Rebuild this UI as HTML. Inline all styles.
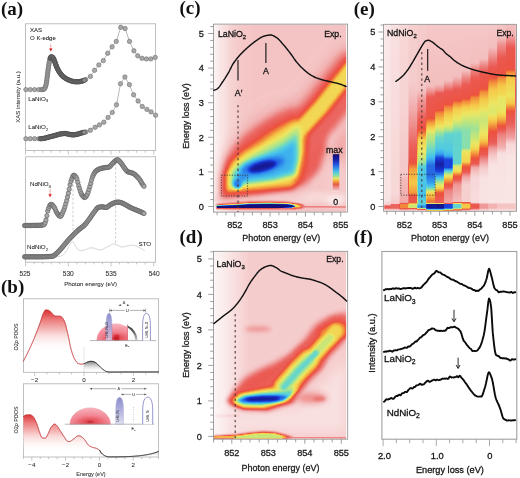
<!DOCTYPE html><html><head><meta charset="utf-8"><style>html,body{margin:0;padding:0;background:#fff;}svg{display:block;}</style></head><body><svg width="520" height="478" viewBox="0 0 520 478"><defs><linearGradient id="cbar" x1="0" y1="0" x2="0" y2="1"><stop offset="0" stop-color="#120c70"/><stop offset="0.14" stop-color="#1420a8"/><stop offset="0.28" stop-color="#2458e0"/><stop offset="0.40" stop-color="#38a0ee"/><stop offset="0.50" stop-color="#56d0d6"/><stop offset="0.58" stop-color="#90e0a0"/><stop offset="0.65" stop-color="#e8e460"/><stop offset="0.72" stop-color="#f4a840"/><stop offset="0.80" stop-color="#e45a3c"/><stop offset="0.88" stop-color="#ec8a86"/><stop offset="1" stop-color="#f8dcdc"/></linearGradient><linearGradient id="rf1" gradientUnits="userSpaceOnUse" x1="0" y1="309" x2="0" y2="352"><stop offset="0" stop-color="#d82828"/><stop offset="0.25" stop-color="#ec7c7c"/><stop offset="0.6" stop-color="#fadada"/><stop offset="1" stop-color="#ffffff" stop-opacity="0"/></linearGradient><linearGradient id="rf2" gradientUnits="userSpaceOnUse" x1="0" y1="413" x2="0" y2="452"><stop offset="0" stop-color="#d82828"/><stop offset="0.25" stop-color="#ec7c7c"/><stop offset="0.6" stop-color="#fadada"/><stop offset="1" stop-color="#ffffff" stop-opacity="0"/></linearGradient><linearGradient id="gf1" gradientUnits="userSpaceOnUse" x1="0" y1="360" x2="0" y2="372"><stop offset="0" stop-color="#555"/><stop offset="1" stop-color="#fff" stop-opacity="0"/></linearGradient><linearGradient id="gf2" gradientUnits="userSpaceOnUse" x1="0" y1="450" x2="0" y2="457"><stop offset="0" stop-color="#555"/><stop offset="1" stop-color="#fff" stop-opacity="0"/></linearGradient><radialGradient id="sc" cx="0.5" cy="1" r="1" fx="0.5" fy="0.85"><stop offset="0" stop-color="#b00010"/><stop offset="0.12" stop-color="#e0303a"/><stop offset="0.45" stop-color="#f07080"/><stop offset="1" stop-color="#f6a8b4"/></radialGradient><linearGradient id="bl" x1="0" y1="0" x2="0" y2="1"><stop offset="0" stop-color="#7070c0"/><stop offset="0.5" stop-color="#a0a0d8"/><stop offset="1" stop-color="#d8d8f0"/></linearGradient><linearGradient id="gsh" x1="0" y1="0" x2="1" y2="0"><stop offset="0" stop-color="#fff" stop-opacity="0"/><stop offset="0.6" stop-color="#999"/><stop offset="1" stop-color="#222"/></linearGradient><clipPath id="scclip340"><rect x="0" y="0" width="128.1" height="478"/></clipPath><linearGradient id="cres" x1="0" y1="0" x2="0" y2="1"><stop offset="0" stop-color="#222"/><stop offset="0.6" stop-color="#777"/><stop offset="1" stop-color="#ccc"/></linearGradient><clipPath id="crc"><rect x="127.3" y="0" width="40" height="478"/></clipPath><filter id="cm" x="0" y="0" width="1" height="1" color-interpolation-filters="sRGB"><feComponentTransfer><feFuncR type="table" tableValues="0.992 0.988 0.984 0.981 0.977 0.972 0.967 0.962 0.958 0.952 0.946 0.940 0.935 0.931 0.928 0.924 0.922 0.925 0.927 0.930 0.936 0.941 0.947 0.952 0.957 0.962 0.960 0.949 0.939 0.903 0.836 0.768 0.689 0.593 0.497 0.415 0.364 0.312 0.267 0.240 0.212 0.185 0.163 0.144 0.125 0.106 0.097 0.095 0.093 0.090 0.088 0.086"/><feFuncG type="table" tableValues="0.965 0.944 0.922 0.901 0.880 0.850 0.819 0.789 0.758 0.713 0.665 0.616 0.568 0.515 0.460 0.405 0.358 0.342 0.327 0.323 0.394 0.466 0.537 0.608 0.679 0.749 0.805 0.846 0.887 0.909 0.906 0.904 0.896 0.881 0.865 0.845 0.816 0.787 0.748 0.682 0.616 0.550 0.476 0.399 0.323 0.246 0.198 0.170 0.141 0.112 0.084 0.055"/><feFuncB type="table" tableValues="0.965 0.944 0.922 0.901 0.880 0.850 0.819 0.789 0.758 0.711 0.661 0.611 0.561 0.504 0.445 0.385 0.331 0.298 0.264 0.235 0.235 0.235 0.235 0.244 0.259 0.275 0.299 0.332 0.366 0.402 0.443 0.484 0.541 0.625 0.708 0.782 0.837 0.893 0.933 0.931 0.928 0.926 0.912 0.891 0.871 0.851 0.803 0.738 0.673 0.608 0.543 0.478"/></feComponentTransfer></filter><filter id="b05" filterUnits="userSpaceOnUse" x="0" y="0" width="520" height="478" color-interpolation-filters="sRGB"><feGaussianBlur stdDeviation="0.5"/></filter><filter id="b1" filterUnits="userSpaceOnUse" x="0" y="0" width="520" height="478" color-interpolation-filters="sRGB"><feGaussianBlur stdDeviation="1"/></filter><filter id="b15" filterUnits="userSpaceOnUse" x="0" y="0" width="520" height="478" color-interpolation-filters="sRGB"><feGaussianBlur stdDeviation="1.5"/></filter><filter id="b2" filterUnits="userSpaceOnUse" x="0" y="0" width="520" height="478" color-interpolation-filters="sRGB"><feGaussianBlur stdDeviation="2"/></filter><filter id="b25" filterUnits="userSpaceOnUse" x="0" y="0" width="520" height="478" color-interpolation-filters="sRGB"><feGaussianBlur stdDeviation="2.5"/></filter><filter id="b3" filterUnits="userSpaceOnUse" x="0" y="0" width="520" height="478" color-interpolation-filters="sRGB"><feGaussianBlur stdDeviation="3"/></filter><filter id="b4" filterUnits="userSpaceOnUse" x="0" y="0" width="520" height="478" color-interpolation-filters="sRGB"><feGaussianBlur stdDeviation="4"/></filter><filter id="b6" filterUnits="userSpaceOnUse" x="0" y="0" width="520" height="478" color-interpolation-filters="sRGB"><feGaussianBlur stdDeviation="6"/></filter><filter id="b9" filterUnits="userSpaceOnUse" x="0" y="0" width="520" height="478" color-interpolation-filters="sRGB"><feGaussianBlur stdDeviation="9"/></filter><clipPath id="clipc"><rect x="213.8" y="24.4" width="132.4" height="187.4"/></clipPath><linearGradient id="hgc1" x1="0" y1="0" x2="1" y2="0"><stop offset="0" stop-color="#000000"/><stop offset="0.17" stop-color="#000000"/><stop offset="0.3" stop-color="#0d0d0d"/><stop offset="0.5" stop-color="#1c1c1c"/><stop offset="0.75" stop-color="#242424"/><stop offset="1" stop-color="#262626"/></linearGradient><clipPath id="clipd"><rect x="213.8" y="251.7" width="132.4" height="187.1"/></clipPath><linearGradient id="hgd1" x1="0" y1="0" x2="1" y2="0"><stop offset="0" stop-color="#000000"/><stop offset="0.2" stop-color="#000000"/><stop offset="0.4" stop-color="#080808"/><stop offset="0.62" stop-color="#141414"/><stop offset="1" stop-color="#212121"/></linearGradient><clipPath id="clipe"><rect x="384.2" y="24.6" width="132" height="186.4"/></clipPath><linearGradient id="vge1" gradientUnits="userSpaceOnUse" x1="0" y1="20" x2="0" y2="214"><stop offset="0.02" stop-color="#0d0d0d"/><stop offset="0.93" stop-color="#121212"/><stop offset="0.95" stop-color="#1f1f1f"/><stop offset="0.96" stop-color="#525252"/><stop offset="0.97" stop-color="#4c4c4c"/><stop offset="0.98" stop-color="#1a1a1a"/><stop offset="0.99" stop-color="#0d0d0d"/></linearGradient><linearGradient id="vge2" gradientUnits="userSpaceOnUse" x1="0" y1="20" x2="0" y2="214"><stop offset="0.02" stop-color="#141414"/><stop offset="0.9" stop-color="#1a1a1a"/><stop offset="0.95" stop-color="#242424"/><stop offset="0.95" stop-color="#4c4c4c"/><stop offset="0.97" stop-color="#4c4c4c"/><stop offset="0.98" stop-color="#1a1a1a"/><stop offset="0.99" stop-color="#0f0f0f"/></linearGradient><linearGradient id="vge3" gradientUnits="userSpaceOnUse" x1="0" y1="20" x2="0" y2="214"><stop offset="0.02" stop-color="#1a1a1a"/><stop offset="0.41" stop-color="#1c1c1c"/><stop offset="0.8" stop-color="#242424"/><stop offset="0.82" stop-color="#2b2b2b"/><stop offset="0.91" stop-color="#303030"/><stop offset="0.94" stop-color="#333333"/><stop offset="0.95" stop-color="#6e6e6e"/><stop offset="0.97" stop-color="#6e6e6e"/><stop offset="0.98" stop-color="#262626"/><stop offset="0.99" stop-color="#141414"/></linearGradient><linearGradient id="vge4" gradientUnits="userSpaceOnUse" x1="0" y1="20" x2="0" y2="214"><stop offset="0.02" stop-color="#1f1f1f"/><stop offset="0.32" stop-color="#212121"/><stop offset="0.41" stop-color="#2b2b2b"/><stop offset="0.51" stop-color="#383838"/><stop offset="0.61" stop-color="#474747"/><stop offset="0.66" stop-color="#4f4f4f"/><stop offset="0.71" stop-color="#545454"/><stop offset="0.74" stop-color="#616161"/><stop offset="0.77" stop-color="#757575"/><stop offset="0.84" stop-color="#808080"/><stop offset="0.89" stop-color="#737373"/><stop offset="0.91" stop-color="#595959"/><stop offset="0.94" stop-color="#545454"/><stop offset="0.95" stop-color="#949494"/><stop offset="0.96" stop-color="#999999"/><stop offset="0.97" stop-color="#949494"/><stop offset="0.97" stop-color="#666666"/><stop offset="0.98" stop-color="#1f1f1f"/></linearGradient><linearGradient id="vge5" gradientUnits="userSpaceOnUse" x1="0" y1="20" x2="0" y2="214"><stop offset="0.02" stop-color="#212121"/><stop offset="0.36" stop-color="#262626"/><stop offset="0.41" stop-color="#383838"/><stop offset="0.47" stop-color="#454545"/><stop offset="0.52" stop-color="#525252"/><stop offset="0.56" stop-color="#5c5c5c"/><stop offset="0.59" stop-color="#707070"/><stop offset="0.62" stop-color="#858585"/><stop offset="0.67" stop-color="#8f8f8f"/><stop offset="0.71" stop-color="#999999"/><stop offset="0.74" stop-color="#a8a8a8"/><stop offset="0.76" stop-color="#b8b8b8"/><stop offset="0.91" stop-color="#bdbdbd"/><stop offset="0.94" stop-color="#b2b2b2"/><stop offset="0.95" stop-color="#b8b8b8"/><stop offset="0.96" stop-color="#cccccc"/><stop offset="0.97" stop-color="#c7c7c7"/><stop offset="0.97" stop-color="#b2b2b2"/><stop offset="0.98" stop-color="#262626"/></linearGradient><linearGradient id="vge6" gradientUnits="userSpaceOnUse" x1="0" y1="20" x2="0" y2="214"><stop offset="0.02" stop-color="#242424"/><stop offset="0.34" stop-color="#292929"/><stop offset="0.37" stop-color="#3d3d3d"/><stop offset="0.4" stop-color="#525252"/><stop offset="0.5" stop-color="#595959"/><stop offset="0.52" stop-color="#6b6b6b"/><stop offset="0.55" stop-color="#808080"/><stop offset="0.59" stop-color="#999999"/><stop offset="0.64" stop-color="#a6a6a6"/><stop offset="0.68" stop-color="#b2b2b2"/><stop offset="0.71" stop-color="#bfbfbf"/><stop offset="0.75" stop-color="#d6d6d6"/><stop offset="0.8" stop-color="#d6d6d6"/><stop offset="0.84" stop-color="#c7c7c7"/><stop offset="0.86" stop-color="#b8b8b8"/><stop offset="0.88" stop-color="#999999"/><stop offset="0.89" stop-color="#878787"/><stop offset="0.92" stop-color="#737373"/><stop offset="0.94" stop-color="#666666"/><stop offset="0.95" stop-color="#b8b8b8"/><stop offset="0.95" stop-color="#f7f7f7"/><stop offset="0.97" stop-color="#f7f7f7"/><stop offset="0.98" stop-color="#999999"/><stop offset="0.99" stop-color="#262626"/></linearGradient><linearGradient id="vge7" gradientUnits="userSpaceOnUse" x1="0" y1="20" x2="0" y2="214"><stop offset="0.02" stop-color="#242424"/><stop offset="0.33" stop-color="#292929"/><stop offset="0.36" stop-color="#3d3d3d"/><stop offset="0.38" stop-color="#525252"/><stop offset="0.46" stop-color="#595959"/><stop offset="0.48" stop-color="#6e6e6e"/><stop offset="0.52" stop-color="#808080"/><stop offset="0.55" stop-color="#8f8f8f"/><stop offset="0.58" stop-color="#a3a3a3"/><stop offset="0.61" stop-color="#b0b0b0"/><stop offset="0.66" stop-color="#b8b8b8"/><stop offset="0.69" stop-color="#c7c7c7"/><stop offset="0.71" stop-color="#e0e0e0"/><stop offset="0.74" stop-color="#f2f2f2"/><stop offset="0.76" stop-color="#ededed"/><stop offset="0.78" stop-color="#e0e0e0"/><stop offset="0.8" stop-color="#cccccc"/><stop offset="0.82" stop-color="#b2b2b2"/><stop offset="0.85" stop-color="#949494"/><stop offset="0.87" stop-color="#808080"/><stop offset="0.89" stop-color="#616161"/><stop offset="0.94" stop-color="#4c4c4c"/><stop offset="0.95" stop-color="#b8b8b8"/><stop offset="0.95" stop-color="#fafafa"/><stop offset="0.97" stop-color="#fafafa"/><stop offset="0.98" stop-color="#999999"/><stop offset="0.99" stop-color="#262626"/></linearGradient><linearGradient id="vge8" gradientUnits="userSpaceOnUse" x1="0" y1="20" x2="0" y2="214"><stop offset="0.02" stop-color="#242424"/><stop offset="0.31" stop-color="#292929"/><stop offset="0.34" stop-color="#3d3d3d"/><stop offset="0.37" stop-color="#525252"/><stop offset="0.43" stop-color="#595959"/><stop offset="0.45" stop-color="#6e6e6e"/><stop offset="0.49" stop-color="#828282"/><stop offset="0.54" stop-color="#8f8f8f"/><stop offset="0.57" stop-color="#a3a3a3"/><stop offset="0.59" stop-color="#b2b2b2"/><stop offset="0.67" stop-color="#b8b8b8"/><stop offset="0.7" stop-color="#c2c2c2"/><stop offset="0.72" stop-color="#e0e0e0"/><stop offset="0.76" stop-color="#e0e0e0"/><stop offset="0.78" stop-color="#b2b2b2"/><stop offset="0.8" stop-color="#949494"/><stop offset="0.82" stop-color="#7a7a7a"/><stop offset="0.85" stop-color="#5c5c5c"/><stop offset="0.88" stop-color="#404040"/><stop offset="0.94" stop-color="#333333"/><stop offset="0.95" stop-color="#666666"/><stop offset="0.95" stop-color="#e0e0e0"/><stop offset="0.97" stop-color="#e0e0e0"/><stop offset="0.98" stop-color="#808080"/><stop offset="0.99" stop-color="#1f1f1f"/></linearGradient><linearGradient id="vge9" gradientUnits="userSpaceOnUse" x1="0" y1="20" x2="0" y2="214"><stop offset="0.02" stop-color="#242424"/><stop offset="0.29" stop-color="#292929"/><stop offset="0.33" stop-color="#404040"/><stop offset="0.36" stop-color="#525252"/><stop offset="0.41" stop-color="#595959"/><stop offset="0.43" stop-color="#6e6e6e"/><stop offset="0.46" stop-color="#828282"/><stop offset="0.51" stop-color="#8f8f8f"/><stop offset="0.54" stop-color="#9e9e9e"/><stop offset="0.59" stop-color="#b2b2b2"/><stop offset="0.74" stop-color="#b2b2b2"/><stop offset="0.75" stop-color="#999999"/><stop offset="0.78" stop-color="#878787"/><stop offset="0.8" stop-color="#666666"/><stop offset="0.82" stop-color="#545454"/><stop offset="0.85" stop-color="#383838"/><stop offset="0.94" stop-color="#292929"/><stop offset="0.94" stop-color="#545454"/><stop offset="0.95" stop-color="#b2b2b2"/><stop offset="0.97" stop-color="#b2b2b2"/><stop offset="0.98" stop-color="#4c4c4c"/><stop offset="0.99" stop-color="#1a1a1a"/></linearGradient><linearGradient id="vge10" gradientUnits="userSpaceOnUse" x1="0" y1="20" x2="0" y2="214"><stop offset="0.02" stop-color="#242424"/><stop offset="0.26" stop-color="#292929"/><stop offset="0.3" stop-color="#404040"/><stop offset="0.34" stop-color="#525252"/><stop offset="0.4" stop-color="#595959"/><stop offset="0.42" stop-color="#6e6e6e"/><stop offset="0.45" stop-color="#828282"/><stop offset="0.49" stop-color="#919191"/><stop offset="0.53" stop-color="#9e9e9e"/><stop offset="0.57" stop-color="#a8a8a8"/><stop offset="0.66" stop-color="#a8a8a8"/><stop offset="0.68" stop-color="#8c8c8c"/><stop offset="0.73" stop-color="#858585"/><stop offset="0.75" stop-color="#666666"/><stop offset="0.78" stop-color="#545454"/><stop offset="0.81" stop-color="#333333"/><stop offset="0.85" stop-color="#1f1f1f"/><stop offset="0.94" stop-color="#1f1f1f"/><stop offset="0.94" stop-color="#545454"/><stop offset="0.95" stop-color="#808080"/><stop offset="0.97" stop-color="#808080"/><stop offset="0.98" stop-color="#333333"/><stop offset="0.99" stop-color="#1a1a1a"/></linearGradient><linearGradient id="vge11" gradientUnits="userSpaceOnUse" x1="0" y1="20" x2="0" y2="214"><stop offset="0.02" stop-color="#242424"/><stop offset="0.22" stop-color="#292929"/><stop offset="0.25" stop-color="#3d3d3d"/><stop offset="0.29" stop-color="#4c4c4c"/><stop offset="0.31" stop-color="#545454"/><stop offset="0.38" stop-color="#595959"/><stop offset="0.4" stop-color="#6e6e6e"/><stop offset="0.44" stop-color="#808080"/><stop offset="0.47" stop-color="#8c8c8c"/><stop offset="0.51" stop-color="#999999"/><stop offset="0.56" stop-color="#a3a3a3"/><stop offset="0.61" stop-color="#999999"/><stop offset="0.66" stop-color="#878787"/><stop offset="0.69" stop-color="#707070"/><stop offset="0.71" stop-color="#616161"/><stop offset="0.74" stop-color="#525252"/><stop offset="0.76" stop-color="#333333"/><stop offset="0.81" stop-color="#1a1a1a"/><stop offset="0.94" stop-color="#171717"/><stop offset="0.95" stop-color="#545454"/><stop offset="0.97" stop-color="#545454"/><stop offset="0.98" stop-color="#262626"/><stop offset="0.99" stop-color="#141414"/></linearGradient><linearGradient id="vge12" gradientUnits="userSpaceOnUse" x1="0" y1="20" x2="0" y2="214"><stop offset="0.02" stop-color="#242424"/><stop offset="0.2" stop-color="#292929"/><stop offset="0.23" stop-color="#3d3d3d"/><stop offset="0.26" stop-color="#4c4c4c"/><stop offset="0.28" stop-color="#545454"/><stop offset="0.35" stop-color="#595959"/><stop offset="0.37" stop-color="#6e6e6e"/><stop offset="0.41" stop-color="#808080"/><stop offset="0.45" stop-color="#8a8a8a"/><stop offset="0.48" stop-color="#949494"/><stop offset="0.52" stop-color="#999999"/><stop offset="0.56" stop-color="#949494"/><stop offset="0.61" stop-color="#878787"/><stop offset="0.64" stop-color="#737373"/><stop offset="0.66" stop-color="#616161"/><stop offset="0.69" stop-color="#525252"/><stop offset="0.72" stop-color="#3d3d3d"/><stop offset="0.77" stop-color="#1f1f1f"/><stop offset="0.82" stop-color="#121212"/><stop offset="0.94" stop-color="#121212"/><stop offset="0.95" stop-color="#383838"/><stop offset="0.97" stop-color="#383838"/><stop offset="0.98" stop-color="#1a1a1a"/><stop offset="0.99" stop-color="#141414"/></linearGradient><linearGradient id="vge13" gradientUnits="userSpaceOnUse" x1="0" y1="20" x2="0" y2="214"><stop offset="0.02" stop-color="#242424"/><stop offset="0.14" stop-color="#292929"/><stop offset="0.19" stop-color="#3d3d3d"/><stop offset="0.23" stop-color="#4c4c4c"/><stop offset="0.25" stop-color="#545454"/><stop offset="0.29" stop-color="#595959"/><stop offset="0.32" stop-color="#6e6e6e"/><stop offset="0.36" stop-color="#808080"/><stop offset="0.4" stop-color="#878787"/><stop offset="0.44" stop-color="#919191"/><stop offset="0.48" stop-color="#949494"/><stop offset="0.51" stop-color="#858585"/><stop offset="0.55" stop-color="#6e6e6e"/><stop offset="0.58" stop-color="#5c5c5c"/><stop offset="0.64" stop-color="#4c4c4c"/><stop offset="0.66" stop-color="#383838"/><stop offset="0.71" stop-color="#1f1f1f"/><stop offset="0.75" stop-color="#121212"/><stop offset="0.94" stop-color="#0f0f0f"/><stop offset="0.95" stop-color="#2e2e2e"/><stop offset="0.97" stop-color="#2e2e2e"/><stop offset="0.98" stop-color="#141414"/></linearGradient><linearGradient id="vge14" gradientUnits="userSpaceOnUse" x1="0" y1="20" x2="0" y2="214"><stop offset="0.02" stop-color="#262626"/><stop offset="0.09" stop-color="#292929"/><stop offset="0.13" stop-color="#3d3d3d"/><stop offset="0.18" stop-color="#4c4c4c"/><stop offset="0.2" stop-color="#545454"/><stop offset="0.28" stop-color="#595959"/><stop offset="0.3" stop-color="#6e6e6e"/><stop offset="0.34" stop-color="#808080"/><stop offset="0.38" stop-color="#878787"/><stop offset="0.41" stop-color="#919191"/><stop offset="0.46" stop-color="#919191"/><stop offset="0.49" stop-color="#858585"/><stop offset="0.52" stop-color="#737373"/><stop offset="0.55" stop-color="#5c5c5c"/><stop offset="0.59" stop-color="#424242"/><stop offset="0.66" stop-color="#2e2e2e"/><stop offset="0.69" stop-color="#141414"/><stop offset="0.94" stop-color="#0f0f0f"/><stop offset="0.95" stop-color="#262626"/><stop offset="0.97" stop-color="#262626"/><stop offset="0.98" stop-color="#141414"/></linearGradient><linearGradient id="vge15" gradientUnits="userSpaceOnUse" x1="0" y1="20" x2="0" y2="214"><stop offset="0.02" stop-color="#292929"/><stop offset="0.07" stop-color="#2e2e2e"/><stop offset="0.1" stop-color="#3d3d3d"/><stop offset="0.13" stop-color="#4c4c4c"/><stop offset="0.15" stop-color="#545454"/><stop offset="0.25" stop-color="#595959"/><stop offset="0.27" stop-color="#6e6e6e"/><stop offset="0.3" stop-color="#808080"/><stop offset="0.35" stop-color="#878787"/><stop offset="0.39" stop-color="#8c8c8c"/><stop offset="0.43" stop-color="#808080"/><stop offset="0.45" stop-color="#6e6e6e"/><stop offset="0.48" stop-color="#595959"/><stop offset="0.54" stop-color="#4c4c4c"/><stop offset="0.61" stop-color="#333333"/><stop offset="0.64" stop-color="#1a1a1a"/><stop offset="0.72" stop-color="#0f0f0f"/><stop offset="0.94" stop-color="#0f0f0f"/><stop offset="0.95" stop-color="#262626"/><stop offset="0.97" stop-color="#262626"/><stop offset="0.98" stop-color="#141414"/></linearGradient></defs><rect width="520" height="478" fill="#fff"/><g clip-path="url(#clipc)"><g filter="url(#cm)"><rect x="200" y="10" width="160" height="215" fill="#262626"/><rect x="205" y="10" width="50" height="215" fill="url(#hgc1)"/><polygon points="214,196 300,192 346,192 346,203 214,203" fill="#1a1a1a" filter="url(#b2)"/><polygon points="219,199 220,170 226,150 236,136 252,120 270,108 290,100 300,104 306,140 302,194 219,199" fill="#333333" filter="url(#b6)"/><polyline points="284,148 300,130 321,107 339.5,83.5 352,68" fill="none" stroke="#363636" stroke-width="46" stroke-linecap="round" stroke-linejoin="round" filter="url(#b6)"/><polygon points="220,199 221,175 226,159 235,146 245,135.6 255.7,127 268.5,118.5 281,112 292,108 304,112 322,120 327,150 320,170 306,184 260,194 222,199" fill="#4f4f4f" filter="url(#b3)"/><polyline points="284,148 300,130 321,107 339.5,83.5 352,68" fill="none" stroke="#4f4f4f" stroke-width="32" stroke-linecap="round" stroke-linejoin="round" filter="url(#b3)"/><polyline points="294,160 310,140 330,117 350,92" fill="none" stroke="#4c4c4c" stroke-width="22" stroke-linecap="round" stroke-linejoin="round" filter="url(#b3)"/><polygon points="350,118 336,140 326,165 346,170" fill="#333333" filter="url(#b4)"/><polygon points="225,194 225,174 230,161 241,150.5 255.7,140 270.6,129 285.5,120.7 294,117 304,122 308,140 306,165 300,182 292,189" fill="#6b6b6b" filter="url(#b25)"/><polyline points="284,148 300,130 321,107 339.5,83.5 352,68" fill="none" stroke="#6e6e6e" stroke-width="19" stroke-linecap="round" stroke-linejoin="round" filter="url(#b2)"/><polygon points="227.5,190.5 227.5,174 233,163 245,152.7 260,144 275,133.5 290,124 297,121 302,128 302,150 297,172 292,184" fill="#878787" filter="url(#b2)"/><polyline points="284,148 300,130 321,107 339.5,83.5 352,68" fill="none" stroke="#878787" stroke-width="12.5" stroke-linecap="round" stroke-linejoin="round" filter="url(#b15)"/><polygon points="229.5,187.5 230.5,172 238,163 250,155 266,146 281,138 293,129 300,126 301,152 296,176 272,182 229.5,187.5" fill="#9e9e9e" filter="url(#b2)"/><polygon points="232,184.5 234,172 242,164.4 254,158 268.5,151.6 283.4,144 297,134 298,160 294,174 273,179.5 232,184.5" fill="#b2b2b2" filter="url(#b2)"/><polygon points="235,182 238,172 248,163 265,157 282,150 295,142 295,160 292,171 273,177 240,181" fill="#c2c2c2" filter="url(#b2)"/><ellipse cx="263" cy="166" rx="22" ry="7" transform="rotate(-15 263 166)" fill="#d6d6d6" filter="url(#b2)"/><ellipse cx="237.5" cy="184" rx="4.5" ry="5" transform="rotate(0 237.5 184)" fill="#d1d1d1" filter="url(#b15)"/><ellipse cx="243" cy="177" rx="6" ry="3.5" transform="rotate(-40 243 177)" fill="#cccccc" filter="url(#b2)"/><ellipse cx="262.5" cy="166.5" rx="14" ry="4.3" transform="rotate(-15 262.5 166.5)" fill="#f7f7f7" filter="url(#b15)"/><ellipse cx="336" cy="178" rx="9" ry="22" transform="rotate(0 336 178)" fill="#212121" filter="url(#b4)"/><ellipse cx="335" cy="200" rx="8" ry="5" transform="rotate(0 335 200)" fill="#0d0d0d" filter="url(#b2)"/><polygon points="216,204 235,202.8 250,201.6 270,201.2 288,201.8 300,204.5 300,207 216,207" fill="#5c5c5c" filter="url(#b1)"/><polygon points="216,205 235,204 250,202.8 270,202.5 290,203.2 298,205 298,207 216,207" fill="#8f8f8f" filter="url(#b05)"/><polygon points="216,205.6 235,204.7 250,203.6 270,203.3 290,203.9 296,205.5 296,207 216,207" fill="#b8b8b8" filter="url(#b05)"/><ellipse cx="297" cy="206.3" rx="7" ry="1.8" transform="rotate(0 297 206.3)" fill="#8c8c8c" filter="url(#b1)"/><polygon points="216.8,206.1 235,205.3 250,204.3 270,204 286,204.3 292,205 295.5,206.2 292,207.7 270,208.2 216.8,208.2" fill="#ffffff" filter="url(#b05)"/><polyline points="216,208.9 296,208.9" fill="none" stroke="#595959" stroke-width="1" stroke-linecap="butt" stroke-linejoin="round" filter="url(#b05)"/><polyline points="300,206.8 346,207.1" fill="none" stroke="#454545" stroke-width="1.5" stroke-linecap="butt" stroke-linejoin="round" filter="url(#b05)"/></g></g><g clip-path="url(#clipd)"><g filter="url(#cm)"><rect x="200" y="240" width="160" height="210" fill="#212121"/><rect x="205" y="240" width="45" height="210" fill="url(#hgd1)"/><polygon points="230,414 300,408 346,360 346,432 230,432" fill="#141414" filter="url(#b6)"/><ellipse cx="258" cy="329" rx="14" ry="3.5" transform="rotate(0 258 329)" fill="#383838" filter="url(#b2)"/><polygon points="228,402 234,390 244,378 258,370 274,363 290,354 304,340 316,324 332,315 348,312 348,330 336,334 322,346 304,366 288,384 268,394 245,404" fill="#525252" filter="url(#b3)"/><polygon points="226,400.7 234,391.9 252,386.3 276,377 296,366 306,380 294,403.1 268,411.5 242,410.3 230,405.5" fill="#4f4f4f" filter="url(#b2)"/><polyline points="284,387 299,370 309,360" fill="none" stroke="#4f4f4f" stroke-width="32" stroke-linecap="round" stroke-linejoin="round" filter="url(#b25)"/><polyline points="309,360 317,352 324,344 330,338 336,331" fill="none" stroke="#4f4f4f" stroke-width="26" stroke-linecap="round" stroke-linejoin="round" filter="url(#b25)"/><polygon points="318,332 328,326 340,323 346,324 346,336 336,338 326,341" fill="#737373" filter="url(#b25)"/><polygon points="231,400.7 238,393.1 256,389.1 280,384.7 298,372 302,384 290,401.5 266,409.1 244,408.7 234,404.7" fill="#6e6e6e" filter="url(#b15)"/><polyline points="284,387 299,370 309,360" fill="none" stroke="#6e6e6e" stroke-width="23" stroke-linecap="round" stroke-linejoin="round" filter="url(#b15)"/><polyline points="309,360 317,352 324,344 330,338 336,331" fill="none" stroke="#6e6e6e" stroke-width="18" stroke-linecap="round" stroke-linejoin="round" filter="url(#b15)"/><polygon points="233.5,400.7 240,394.3 258,390.7 280,387.1 296,378 298,390.3 286,401.5 264,407.5 244,407.1 236,403.9" fill="#878787" filter="url(#b15)"/><polyline points="284,387 299,370 309,360" fill="none" stroke="#878787" stroke-width="18" stroke-linecap="round" stroke-linejoin="round" filter="url(#b15)"/><polyline points="309,360 317,352 324,344 330,338 336,331" fill="none" stroke="#878787" stroke-width="13" stroke-linecap="round" stroke-linejoin="round" filter="url(#b15)"/><polygon points="235,400.7 242,395.1 260,391.9 282,389.5 294,386.3 294,393.5 282,401.5 262,405.9 244,405.5 237,403.1" fill="#9e9e9e" filter="url(#b1)"/><polyline points="284,387 299,370 309,360" fill="none" stroke="#9e9e9e" stroke-width="12" stroke-linecap="round" stroke-linejoin="round" filter="url(#b1)"/><polyline points="309,360 317,352 324,344 330,338" fill="none" stroke="#999999" stroke-width="8" stroke-linecap="round" stroke-linejoin="round" filter="url(#b1)"/><polygon points="236,400.3 244,395.9 262,393.5 282,391.9 292,390.3 290,396.7 278,402.3 260,404.7 244,403.9" fill="#b2b2b2" filter="url(#b1)"/><polyline points="284,387 299,370 309,360 316,353" fill="none" stroke="#b0b0b0" stroke-width="6" stroke-linecap="round" stroke-linejoin="round" filter="url(#b1)"/><polygon points="239,399.9 246,396.7 262,395.1 280,394.7 288,395.9 284,399.9 270,402.7 252,403.1 242,402.3" fill="#d6d6d6" filter="url(#b1)"/><polygon points="244,399.5 250,397.5 262,396.7 276,396.7 281,397.9 276,400.3 262,401.1 250,401.1" fill="#f7f7f7" filter="url(#b1)"/><ellipse cx="312" cy="398" rx="16" ry="6" transform="rotate(0 312 398)" fill="#3d3d3d" filter="url(#b3)"/><ellipse cx="319" cy="398.8" rx="6.5" ry="2.3" transform="rotate(0 319 398.8)" fill="#474747" filter="url(#b15)"/><polyline points="216,416 240,415.5" fill="none" stroke="#333333" stroke-width="1.2" stroke-linecap="butt" stroke-linejoin="round" filter="url(#b1)"/><polygon points="214,435.3 236,434.3 250,432.3 263,431 275,431.8 285,434.3 293,437 293,439 214,439" fill="#575757" filter="url(#b1)"/><polygon points="214,436.2 236,435.3 250,433.5 263,432.4 275,433 284,435.5 288,438.6 214,438.6" fill="#7a7a7a" filter="url(#b05)"/><polygon points="234,437 250,434.7 263,433.6 275,434.2 281,436 283,438.5 234,438.5" fill="#999999" filter="url(#b05)"/><polyline points="290,437.7 346,437.9" fill="none" stroke="#404040" stroke-width="1.6" stroke-linecap="butt" stroke-linejoin="round" filter="url(#b05)"/></g></g><g clip-path="url(#clipe)"><g filter="url(#cm)"><rect x="380" y="20" width="140" height="195" fill="#1f1f1f"/><rect x="381.82" y="20" width="9.47" height="194" fill="url(#vge1)"/><rect x="390.69" y="20" width="9.47" height="194" fill="url(#vge2)"/><rect x="399.56" y="20" width="9.47" height="194" fill="url(#vge3)"/><rect x="408.44" y="20" width="9.47" height="194" fill="url(#vge4)"/><rect x="417.31" y="20" width="9.47" height="194" fill="url(#vge5)"/><rect x="426.18" y="20" width="9.47" height="194" fill="url(#vge6)"/><rect x="435.05" y="20" width="9.47" height="194" fill="url(#vge7)"/><rect x="443.91" y="20" width="9.47" height="194" fill="url(#vge8)"/><rect x="452.78" y="20" width="9.47" height="194" fill="url(#vge9)"/><rect x="461.65" y="20" width="9.47" height="194" fill="url(#vge10)"/><rect x="470.52" y="20" width="9.47" height="194" fill="url(#vge11)"/><rect x="479.39" y="20" width="9.47" height="194" fill="url(#vge12)"/><rect x="488.26" y="20" width="9.47" height="194" fill="url(#vge13)"/><rect x="497.13" y="20" width="9.47" height="194" fill="url(#vge14)"/><rect x="506" y="20" width="9.47" height="194" fill="url(#vge15)"/></g></g><text x="1" y="14.8" font-size="19" text-anchor="start" fill="#111" font-family="'Liberation Serif', 'Times New Roman', serif" font-weight="bold">(a)</text><text x="1" y="293" font-size="19" text-anchor="start" fill="#111" font-family="'Liberation Serif', 'Times New Roman', serif" font-weight="bold">(b)</text><text x="179.4" y="14.4" font-size="19" text-anchor="start" fill="#111" font-family="'Liberation Serif', 'Times New Roman', serif" font-weight="bold">(c)</text><text x="179.5" y="242.8" font-size="19" text-anchor="start" fill="#111" font-family="'Liberation Serif', 'Times New Roman', serif" font-weight="bold">(d)</text><text x="353.8" y="14.6" font-size="19" text-anchor="start" fill="#111" font-family="'Liberation Serif', 'Times New Roman', serif" font-weight="bold">(e)</text><text x="353.8" y="243.2" font-size="19" text-anchor="start" fill="#111" font-family="'Liberation Serif', 'Times New Roman', serif" font-weight="bold">(f)</text><line x1="208.2" y1="206.5" x2="213.4" y2="206.5" stroke="#777" stroke-width="0.7"/><text x="201.2" y="209.7" font-size="9.2" text-anchor="middle" fill="#1a1a1a" font-family="'Liberation Sans', Arial, sans-serif" font-weight="normal" stroke="#1a1a1a" stroke-width="0.28">0</text><line x1="210.2" y1="199.58" x2="213.4" y2="199.58" stroke="#777" stroke-width="0.7"/><line x1="210.2" y1="192.66" x2="213.4" y2="192.66" stroke="#777" stroke-width="0.7"/><line x1="210.2" y1="185.74" x2="213.4" y2="185.74" stroke="#777" stroke-width="0.7"/><line x1="210.2" y1="178.82" x2="213.4" y2="178.82" stroke="#777" stroke-width="0.7"/><line x1="208.2" y1="171.9" x2="213.4" y2="171.9" stroke="#777" stroke-width="0.7"/><text x="201.2" y="175.1" font-size="9.2" text-anchor="middle" fill="#1a1a1a" font-family="'Liberation Sans', Arial, sans-serif" font-weight="normal" stroke="#1a1a1a" stroke-width="0.28">1</text><line x1="210.2" y1="164.98" x2="213.4" y2="164.98" stroke="#777" stroke-width="0.7"/><line x1="210.2" y1="158.06" x2="213.4" y2="158.06" stroke="#777" stroke-width="0.7"/><line x1="210.2" y1="151.14" x2="213.4" y2="151.14" stroke="#777" stroke-width="0.7"/><line x1="210.2" y1="144.22" x2="213.4" y2="144.22" stroke="#777" stroke-width="0.7"/><line x1="208.2" y1="137.3" x2="213.4" y2="137.3" stroke="#777" stroke-width="0.7"/><text x="201.2" y="140.5" font-size="9.2" text-anchor="middle" fill="#1a1a1a" font-family="'Liberation Sans', Arial, sans-serif" font-weight="normal" stroke="#1a1a1a" stroke-width="0.28">2</text><line x1="210.2" y1="130.38" x2="213.4" y2="130.38" stroke="#777" stroke-width="0.7"/><line x1="210.2" y1="123.46" x2="213.4" y2="123.46" stroke="#777" stroke-width="0.7"/><line x1="210.2" y1="116.54" x2="213.4" y2="116.54" stroke="#777" stroke-width="0.7"/><line x1="210.2" y1="109.62" x2="213.4" y2="109.62" stroke="#777" stroke-width="0.7"/><line x1="208.2" y1="102.7" x2="213.4" y2="102.7" stroke="#777" stroke-width="0.7"/><text x="201.2" y="105.9" font-size="9.2" text-anchor="middle" fill="#1a1a1a" font-family="'Liberation Sans', Arial, sans-serif" font-weight="normal" stroke="#1a1a1a" stroke-width="0.28">3</text><line x1="210.2" y1="95.78" x2="213.4" y2="95.78" stroke="#777" stroke-width="0.7"/><line x1="210.2" y1="88.86" x2="213.4" y2="88.86" stroke="#777" stroke-width="0.7"/><line x1="210.2" y1="81.94" x2="213.4" y2="81.94" stroke="#777" stroke-width="0.7"/><line x1="210.2" y1="75.02" x2="213.4" y2="75.02" stroke="#777" stroke-width="0.7"/><line x1="208.2" y1="68.1" x2="213.4" y2="68.1" stroke="#777" stroke-width="0.7"/><text x="201.2" y="71.3" font-size="9.2" text-anchor="middle" fill="#1a1a1a" font-family="'Liberation Sans', Arial, sans-serif" font-weight="normal" stroke="#1a1a1a" stroke-width="0.28">4</text><line x1="210.2" y1="61.18" x2="213.4" y2="61.18" stroke="#777" stroke-width="0.7"/><line x1="210.2" y1="54.26" x2="213.4" y2="54.26" stroke="#777" stroke-width="0.7"/><line x1="210.2" y1="47.34" x2="213.4" y2="47.34" stroke="#777" stroke-width="0.7"/><line x1="210.2" y1="40.42" x2="213.4" y2="40.42" stroke="#777" stroke-width="0.7"/><line x1="208.2" y1="33.5" x2="213.4" y2="33.5" stroke="#777" stroke-width="0.7"/><text x="201.2" y="36.7" font-size="9.2" text-anchor="middle" fill="#1a1a1a" font-family="'Liberation Sans', Arial, sans-serif" font-weight="normal" stroke="#1a1a1a" stroke-width="0.28">5</text><line x1="210.2" y1="26.58" x2="213.4" y2="26.58" stroke="#777" stroke-width="0.7"/><line x1="217.15" y1="212.1" x2="217.15" y2="215.3" stroke="#777" stroke-width="0.7"/><line x1="225.98" y1="212.1" x2="225.98" y2="215.3" stroke="#777" stroke-width="0.7"/><line x1="234.8" y1="212.1" x2="234.8" y2="216.6" stroke="#777" stroke-width="0.7"/><text x="234.8" y="228.4" font-size="9.2" text-anchor="middle" fill="#1a1a1a" font-family="'Liberation Sans', Arial, sans-serif" font-weight="normal" stroke="#1a1a1a" stroke-width="0.28">852</text><line x1="243.62" y1="212.1" x2="243.62" y2="215.3" stroke="#777" stroke-width="0.7"/><line x1="252.45" y1="212.1" x2="252.45" y2="215.3" stroke="#777" stroke-width="0.7"/><line x1="261.28" y1="212.1" x2="261.28" y2="215.3" stroke="#777" stroke-width="0.7"/><line x1="270.1" y1="212.1" x2="270.1" y2="216.6" stroke="#777" stroke-width="0.7"/><text x="270.1" y="228.4" font-size="9.2" text-anchor="middle" fill="#1a1a1a" font-family="'Liberation Sans', Arial, sans-serif" font-weight="normal" stroke="#1a1a1a" stroke-width="0.28">853</text><line x1="278.93" y1="212.1" x2="278.93" y2="215.3" stroke="#777" stroke-width="0.7"/><line x1="287.75" y1="212.1" x2="287.75" y2="215.3" stroke="#777" stroke-width="0.7"/><line x1="296.57" y1="212.1" x2="296.57" y2="215.3" stroke="#777" stroke-width="0.7"/><line x1="305.4" y1="212.1" x2="305.4" y2="216.6" stroke="#777" stroke-width="0.7"/><text x="305.4" y="228.4" font-size="9.2" text-anchor="middle" fill="#1a1a1a" font-family="'Liberation Sans', Arial, sans-serif" font-weight="normal" stroke="#1a1a1a" stroke-width="0.28">854</text><line x1="314.23" y1="212.1" x2="314.23" y2="215.3" stroke="#777" stroke-width="0.7"/><line x1="323.05" y1="212.1" x2="323.05" y2="215.3" stroke="#777" stroke-width="0.7"/><line x1="331.88" y1="212.1" x2="331.88" y2="215.3" stroke="#777" stroke-width="0.7"/><line x1="340.7" y1="212.1" x2="340.7" y2="216.6" stroke="#777" stroke-width="0.7"/><text x="340.7" y="228.4" font-size="9.2" text-anchor="middle" fill="#1a1a1a" font-family="'Liberation Sans', Arial, sans-serif" font-weight="normal" stroke="#1a1a1a" stroke-width="0.28">855</text><rect x="213.4" y="24.1" width="134" height="188" fill="none" stroke="#8a8a8a" stroke-width="0.8"/><text x="281.2" y="241" font-size="9" text-anchor="middle" fill="#1a1a1a" font-family="'Liberation Sans', Arial, sans-serif" font-weight="normal" stroke="#1a1a1a" stroke-width="0.28">Photon energy (eV)</text><text x="189.3" y="116" font-size="8.9" text-anchor="middle" fill="#1a1a1a" font-family="'Liberation Sans', Arial, sans-serif" font-weight="normal" transform="rotate(-90 189.3 116)" stroke="#1a1a1a" stroke-width="0.28">Energy loss (eV)</text><text x="217.9" y="37" font-size="8.8" text-anchor="start" fill="#111" font-family="'Liberation Sans', Arial, sans-serif" font-weight="normal" stroke="#111" stroke-width="0.28">LaNiO<tspan font-size="6" dy="2">2</tspan></text><text x="324.2" y="37.3" font-size="8.7" text-anchor="start" fill="#111" font-family="'Liberation Sans', Arial, sans-serif" font-weight="normal" stroke="#111" stroke-width="0.28">Exp.</text><polyline points="214,90.2 214.59,90.03 215.18,89.84 215.74,89.63 216.28,89.39 216.78,89.13 217.23,88.85 217.67,88.52 218.08,88.15 218.48,87.75 218.87,87.32 219.24,86.86 219.6,86.38 219.95,85.89 220.3,85.38 220.64,84.86 220.97,84.33 221.31,83.81 221.64,83.29 221.97,82.78 222.31,82.28 222.65,81.79 222.98,81.31 223.32,80.83 223.65,80.34 223.98,79.85 224.3,79.36 224.63,78.87 224.95,78.37 225.27,77.88 225.59,77.38 225.9,76.88 226.22,76.37 226.53,75.87 226.83,75.37 227.14,74.86 227.44,74.35 227.74,73.85 228.04,73.34 228.34,72.83 228.63,72.32 228.92,71.81 229.2,71.29 229.48,70.77 229.75,70.24 230.01,69.71 230.28,69.18 230.54,68.65 230.8,68.11 231.06,67.58 231.32,67.05 231.59,66.53 231.86,66 232.14,65.48 232.42,64.97 232.72,64.47 233.02,63.97 233.33,63.47 233.66,62.98 233.98,62.49 234.32,62.01 234.66,61.52 235,61.04 235.36,60.57 235.71,60.09 236.07,59.62 236.44,59.15 236.81,58.69 237.18,58.23 237.56,57.77 237.93,57.32 238.31,56.87 238.69,56.42 239.08,55.98 239.47,55.54 239.86,55.1 240.26,54.67 240.66,54.24 241.06,53.81 241.47,53.38 241.88,52.96 242.3,52.54 242.72,52.12 243.14,51.7 243.56,51.29 243.99,50.88 244.42,50.47 244.85,50.06 245.28,49.66 245.72,49.26 246.15,48.86 246.59,48.46 247.02,48.07 247.46,47.68 247.9,47.29 248.34,46.89 248.79,46.51 249.23,46.12 249.68,45.73 250.13,45.35 250.59,44.97 251.04,44.59 251.5,44.21 251.96,43.84 252.42,43.48 252.89,43.11 253.36,42.75 253.83,42.4 254.3,42.05 254.78,41.71 255.26,41.37 255.74,41.03 256.22,40.69 256.71,40.34 257.2,39.99 257.69,39.63 258.18,39.28 258.68,38.93 259.18,38.59 259.68,38.25 260.19,37.93 260.7,37.62 261.21,37.33 261.73,37.06 262.26,36.8 262.78,36.58 263.32,36.38 263.86,36.21 264.41,36.06 264.97,35.91 265.55,35.76 266.13,35.62 266.72,35.49 267.31,35.36 267.91,35.26 268.5,35.16 269.09,35.09 269.68,35.03 270.25,35.01 270.82,35.01 271.39,35.07 271.96,35.21 272.53,35.4 273.09,35.64 273.65,35.91 274.19,36.2 274.72,36.49 275.23,36.79 275.72,37.07 276.2,37.37 276.66,37.69 277.12,38.03 277.56,38.39 278,38.77 278.44,39.16 278.86,39.57 279.28,40 279.7,40.43 280.1,40.87 280.51,41.33 280.91,41.78 281.31,42.25 281.7,42.71 282.09,43.18 282.49,43.64 282.88,44.1 283.26,44.56 283.65,45.01 284.04,45.45 284.43,45.89 284.82,46.34 285.2,46.78 285.58,47.23 285.95,47.69 286.33,48.15 286.7,48.61 287.06,49.07 287.43,49.53 287.79,50 288.16,50.46 288.52,50.93 288.88,51.4 289.23,51.87 289.59,52.34 289.95,52.81 290.31,53.28 290.66,53.75 291.02,54.22 291.37,54.7 291.71,55.18 292.05,55.66 292.39,56.14 292.73,56.63 293.07,57.12 293.4,57.6 293.74,58.09 294.07,58.58 294.41,59.06 294.75,59.55 295.1,60.03 295.44,60.5 295.79,60.97 296.15,61.44 296.51,61.9 296.88,62.36 297.26,62.81 297.64,63.26 298.02,63.7 298.41,64.14 298.81,64.58 299.21,65.02 299.61,65.45 300.02,65.89 300.43,66.31 300.84,66.74 301.26,67.16 301.68,67.57 302.1,67.99 302.53,68.39 302.95,68.8 303.39,69.2 303.82,69.59 304.26,69.98 304.7,70.38 305.14,70.77 305.59,71.16 306.05,71.54 306.5,71.92 306.96,72.29 307.43,72.66 307.9,73.02 308.37,73.38 308.85,73.72 309.33,74.06 309.82,74.38 310.31,74.7 310.8,75.01 311.31,75.31 311.82,75.61 312.33,75.91 312.85,76.19 313.38,76.47 313.91,76.74 314.44,77 314.97,77.25 315.51,77.49 316.05,77.72 316.59,77.94 317.14,78.15 317.69,78.35 318.25,78.55 318.81,78.74 319.37,78.93 319.94,79.11 320.5,79.28 321.07,79.45 321.64,79.62 322.21,79.78 322.77,79.94 323.34,80.09 323.91,80.24 324.48,80.39 325.05,80.52 325.63,80.66 326.2,80.79 326.78,80.92 327.36,81.05 327.93,81.18 328.51,81.31 329.09,81.43 329.66,81.56 330.24,81.69 330.81,81.83 331.39,81.96 331.96,82.09 332.54,82.21 333.12,82.34 333.7,82.46 334.28,82.59 334.85,82.71 335.43,82.84 336,82.98 336.57,83.12 337.14,83.26 337.71,83.42 338.27,83.58 338.84,83.75 339.4,83.92 339.96,84.11 340.51,84.29 341.07,84.49 341.62,84.69 342.18,84.9 342.73,85.11 343.28,85.33 343.82,85.55 344.37,85.78 344.92,86.02 345.46,86.26 346,86.5" fill="none" stroke="#111" stroke-width="1.45" stroke-linejoin="round" stroke-linecap="round"/><line x1="238" y1="60" x2="238" y2="80.6" stroke="#111" stroke-width="1.1"/><line x1="265.9" y1="43" x2="265.9" y2="63" stroke="#111" stroke-width="1.1"/><text x="238.6" y="95.6" font-size="8.8" text-anchor="middle" fill="#111" font-family="'Liberation Sans', Arial, sans-serif" font-weight="normal" stroke="#111" stroke-width="0.28">A′</text><text x="266" y="74" font-size="8.8" text-anchor="middle" fill="#111" font-family="'Liberation Sans', Arial, sans-serif" font-weight="normal" stroke="#111" stroke-width="0.28">A</text><line x1="238" y1="105" x2="238" y2="212" stroke="#4a3838" stroke-width="1.1" stroke-dasharray="2.3 3"/><rect x="221.4" y="175.2" width="26.2" height="20.8" fill="none" stroke="#333" stroke-width="0.8" stroke-dasharray="1.2 1.4"/><rect x="332.8" y="154.2" width="6.5" height="37.5" fill="url(#cbar)" stroke="none" stroke-width="0.7"/><text x="334.3" y="152.5" font-size="8.8" text-anchor="middle" fill="#111" font-family="'Liberation Sans', Arial, sans-serif" font-weight="normal" stroke="#111" stroke-width="0.28">max</text><text x="335.6" y="205.4" font-size="8.8" text-anchor="middle" fill="#111" font-family="'Liberation Sans', Arial, sans-serif" font-weight="normal" stroke="#111" stroke-width="0.28">0</text><line x1="208.2" y1="436.4" x2="213.4" y2="436.4" stroke="#777" stroke-width="0.7"/><text x="199.2" y="439.6" font-size="9.2" text-anchor="middle" fill="#1a1a1a" font-family="'Liberation Sans', Arial, sans-serif" font-weight="normal" stroke="#1a1a1a" stroke-width="0.28">0</text><line x1="210.2" y1="429.3" x2="213.4" y2="429.3" stroke="#777" stroke-width="0.7"/><line x1="210.2" y1="422.2" x2="213.4" y2="422.2" stroke="#777" stroke-width="0.7"/><line x1="210.2" y1="415.1" x2="213.4" y2="415.1" stroke="#777" stroke-width="0.7"/><line x1="210.2" y1="408" x2="213.4" y2="408" stroke="#777" stroke-width="0.7"/><line x1="208.2" y1="400.9" x2="213.4" y2="400.9" stroke="#777" stroke-width="0.7"/><text x="199.2" y="404.1" font-size="9.2" text-anchor="middle" fill="#1a1a1a" font-family="'Liberation Sans', Arial, sans-serif" font-weight="normal" stroke="#1a1a1a" stroke-width="0.28">1</text><line x1="210.2" y1="393.8" x2="213.4" y2="393.8" stroke="#777" stroke-width="0.7"/><line x1="210.2" y1="386.7" x2="213.4" y2="386.7" stroke="#777" stroke-width="0.7"/><line x1="210.2" y1="379.6" x2="213.4" y2="379.6" stroke="#777" stroke-width="0.7"/><line x1="210.2" y1="372.5" x2="213.4" y2="372.5" stroke="#777" stroke-width="0.7"/><line x1="208.2" y1="365.4" x2="213.4" y2="365.4" stroke="#777" stroke-width="0.7"/><text x="199.2" y="368.6" font-size="9.2" text-anchor="middle" fill="#1a1a1a" font-family="'Liberation Sans', Arial, sans-serif" font-weight="normal" stroke="#1a1a1a" stroke-width="0.28">2</text><line x1="210.2" y1="358.3" x2="213.4" y2="358.3" stroke="#777" stroke-width="0.7"/><line x1="210.2" y1="351.2" x2="213.4" y2="351.2" stroke="#777" stroke-width="0.7"/><line x1="210.2" y1="344.1" x2="213.4" y2="344.1" stroke="#777" stroke-width="0.7"/><line x1="210.2" y1="337" x2="213.4" y2="337" stroke="#777" stroke-width="0.7"/><line x1="208.2" y1="329.9" x2="213.4" y2="329.9" stroke="#777" stroke-width="0.7"/><text x="199.2" y="333.1" font-size="9.2" text-anchor="middle" fill="#1a1a1a" font-family="'Liberation Sans', Arial, sans-serif" font-weight="normal" stroke="#1a1a1a" stroke-width="0.28">3</text><line x1="210.2" y1="322.8" x2="213.4" y2="322.8" stroke="#777" stroke-width="0.7"/><line x1="210.2" y1="315.7" x2="213.4" y2="315.7" stroke="#777" stroke-width="0.7"/><line x1="210.2" y1="308.6" x2="213.4" y2="308.6" stroke="#777" stroke-width="0.7"/><line x1="210.2" y1="301.5" x2="213.4" y2="301.5" stroke="#777" stroke-width="0.7"/><line x1="208.2" y1="294.4" x2="213.4" y2="294.4" stroke="#777" stroke-width="0.7"/><text x="199.2" y="297.6" font-size="9.2" text-anchor="middle" fill="#1a1a1a" font-family="'Liberation Sans', Arial, sans-serif" font-weight="normal" stroke="#1a1a1a" stroke-width="0.28">4</text><line x1="210.2" y1="287.3" x2="213.4" y2="287.3" stroke="#777" stroke-width="0.7"/><line x1="210.2" y1="280.2" x2="213.4" y2="280.2" stroke="#777" stroke-width="0.7"/><line x1="210.2" y1="273.1" x2="213.4" y2="273.1" stroke="#777" stroke-width="0.7"/><line x1="210.2" y1="266" x2="213.4" y2="266" stroke="#777" stroke-width="0.7"/><line x1="208.2" y1="258.9" x2="213.4" y2="258.9" stroke="#777" stroke-width="0.7"/><text x="199.2" y="262.1" font-size="9.2" text-anchor="middle" fill="#1a1a1a" font-family="'Liberation Sans', Arial, sans-serif" font-weight="normal" stroke="#1a1a1a" stroke-width="0.28">5</text><line x1="210.2" y1="251.8" x2="213.4" y2="251.8" stroke="#777" stroke-width="0.7"/><line x1="213.55" y1="439.2" x2="213.55" y2="442.4" stroke="#777" stroke-width="0.7"/><line x1="222.68" y1="439.2" x2="222.68" y2="442.4" stroke="#777" stroke-width="0.7"/><line x1="231.8" y1="439.2" x2="231.8" y2="443.7" stroke="#777" stroke-width="0.7"/><text x="231.8" y="455.5" font-size="9.2" text-anchor="middle" fill="#1a1a1a" font-family="'Liberation Sans', Arial, sans-serif" font-weight="normal" stroke="#1a1a1a" stroke-width="0.28">852</text><line x1="240.93" y1="439.2" x2="240.93" y2="442.4" stroke="#777" stroke-width="0.7"/><line x1="250.05" y1="439.2" x2="250.05" y2="442.4" stroke="#777" stroke-width="0.7"/><line x1="259.18" y1="439.2" x2="259.18" y2="442.4" stroke="#777" stroke-width="0.7"/><line x1="268.3" y1="439.2" x2="268.3" y2="443.7" stroke="#777" stroke-width="0.7"/><text x="268.3" y="455.5" font-size="9.2" text-anchor="middle" fill="#1a1a1a" font-family="'Liberation Sans', Arial, sans-serif" font-weight="normal" stroke="#1a1a1a" stroke-width="0.28">853</text><line x1="277.43" y1="439.2" x2="277.43" y2="442.4" stroke="#777" stroke-width="0.7"/><line x1="286.55" y1="439.2" x2="286.55" y2="442.4" stroke="#777" stroke-width="0.7"/><line x1="295.68" y1="439.2" x2="295.68" y2="442.4" stroke="#777" stroke-width="0.7"/><line x1="304.8" y1="439.2" x2="304.8" y2="443.7" stroke="#777" stroke-width="0.7"/><text x="304.8" y="455.5" font-size="9.2" text-anchor="middle" fill="#1a1a1a" font-family="'Liberation Sans', Arial, sans-serif" font-weight="normal" stroke="#1a1a1a" stroke-width="0.28">854</text><line x1="313.93" y1="439.2" x2="313.93" y2="442.4" stroke="#777" stroke-width="0.7"/><line x1="323.05" y1="439.2" x2="323.05" y2="442.4" stroke="#777" stroke-width="0.7"/><line x1="332.18" y1="439.2" x2="332.18" y2="442.4" stroke="#777" stroke-width="0.7"/><line x1="341.3" y1="439.2" x2="341.3" y2="443.7" stroke="#777" stroke-width="0.7"/><text x="341.3" y="455.5" font-size="9.2" text-anchor="middle" fill="#1a1a1a" font-family="'Liberation Sans', Arial, sans-serif" font-weight="normal" stroke="#1a1a1a" stroke-width="0.28">855</text><rect x="213.4" y="251.3" width="134.3" height="187.9" fill="none" stroke="#8a8a8a" stroke-width="0.8"/><text x="280.6" y="470.8" font-size="9" text-anchor="middle" fill="#1a1a1a" font-family="'Liberation Sans', Arial, sans-serif" font-weight="normal" stroke="#1a1a1a" stroke-width="0.28">Photon energy (eV)</text><text x="189.3" y="345" font-size="8.9" text-anchor="middle" fill="#1a1a1a" font-family="'Liberation Sans', Arial, sans-serif" font-weight="normal" transform="rotate(-90 189.3 345)" stroke="#1a1a1a" stroke-width="0.28">Energy loss (eV)</text><text x="216.5" y="267" font-size="8.8" text-anchor="start" fill="#111" font-family="'Liberation Sans', Arial, sans-serif" font-weight="normal" stroke="#111" stroke-width="0.28">LaNiO<tspan font-size="6" dy="2">3</tspan></text><text x="326.2" y="262.1" font-size="8.7" text-anchor="start" fill="#111" font-family="'Liberation Sans', Arial, sans-serif" font-weight="normal" stroke="#111" stroke-width="0.28">Exp.</text><polyline points="214,323.5 214.44,323.15 214.88,322.8 215.32,322.44 215.75,322.09 216.19,321.74 216.63,321.39 217.07,321.04 217.51,320.68 217.95,320.33 218.39,319.98 218.83,319.63 219.27,319.28 219.71,318.93 220.14,318.58 220.58,318.23 221.02,317.87 221.46,317.52 221.9,317.17 222.34,316.82 222.79,316.47 223.23,316.13 223.68,315.78 224.13,315.44 224.58,315.1 225.03,314.77 225.49,314.43 225.95,314.09 226.4,313.76 226.86,313.42 227.32,313.09 227.77,312.75 228.22,312.41 228.67,312.07 229.12,311.72 229.56,311.38 230,311.03 230.44,310.68 230.87,310.32 231.3,309.96 231.72,309.59 232.13,309.22 232.54,308.84 232.94,308.46 233.33,308.07 233.72,307.67 234.11,307.27 234.49,306.85 234.87,306.44 235.24,306.01 235.61,305.59 235.97,305.15 236.33,304.72 236.69,304.28 237.04,303.84 237.39,303.39 237.74,302.94 238.08,302.49 238.43,302.04 238.76,301.59 239.1,301.14 239.43,300.69 239.75,300.24 240.08,299.78 240.4,299.32 240.71,298.85 241.03,298.39 241.34,297.92 241.65,297.45 241.95,296.97 242.26,296.5 242.56,296.02 242.86,295.54 243.15,295.06 243.45,294.58 243.74,294.1 244.03,293.62 244.32,293.14 244.61,292.65 244.9,292.17 245.18,291.69 245.46,291.2 245.74,290.71 246,290.21 246.27,289.72 246.53,289.22 246.79,288.72 247.05,288.22 247.31,287.71 247.57,287.21 247.83,286.71 248.09,286.22 248.36,285.72 248.63,285.23 248.9,284.74 249.19,284.25 249.47,283.77 249.77,283.29 250.07,282.82 250.37,282.35 250.68,281.88 251,281.42 251.31,280.95 251.64,280.49 251.96,280.03 252.29,279.57 252.63,279.12 252.96,278.67 253.3,278.21 253.64,277.76 253.98,277.32 254.32,276.87 254.67,276.43 255.01,275.98 255.36,275.54 255.7,275.09 256.04,274.63 256.39,274.17 256.74,273.72 257.08,273.26 257.44,272.81 257.8,272.37 258.16,271.94 258.53,271.52 258.91,271.11 259.3,270.72 259.7,270.34 260.12,269.99 260.54,269.64 260.99,269.3 261.44,268.97 261.92,268.64 262.4,268.33 262.89,268.03 263.39,267.75 263.89,267.49 264.4,267.25 264.91,267.04 265.42,266.84 265.95,266.64 266.49,266.43 267.03,266.24 267.58,266.06 268.14,265.89 268.69,265.75 269.25,265.63 269.8,265.55 270.34,265.51 270.88,265.51 271.41,265.57 271.95,265.69 272.49,265.85 273.03,266.05 273.57,266.28 274.1,266.53 274.62,266.79 275.13,267.06 275.64,267.32 276.14,267.57 276.62,267.84 277.08,268.14 277.54,268.47 277.99,268.82 278.44,269.17 278.89,269.53 279.33,269.89 279.79,270.23 280.25,270.55 280.72,270.84 281.21,271.11 281.7,271.36 282.21,271.59 282.72,271.82 283.24,272.04 283.76,272.25 284.29,272.46 284.82,272.66 285.35,272.86 285.88,273.07 286.41,273.27 286.93,273.47 287.45,273.68 287.98,273.89 288.5,274.11 289.02,274.32 289.54,274.53 290.07,274.74 290.59,274.95 291.12,275.15 291.64,275.35 292.17,275.54 292.7,275.72 293.24,275.89 293.77,276.05 294.31,276.21 294.85,276.36 295.39,276.5 295.93,276.65 296.48,276.79 297.03,276.93 297.57,277.06 298.12,277.19 298.67,277.31 299.22,277.43 299.78,277.55 300.33,277.67 300.88,277.78 301.43,277.89 301.98,278 302.53,278.1 303.09,278.19 303.64,278.28 304.2,278.36 304.76,278.44 305.32,278.52 305.88,278.59 306.44,278.67 307,278.75 307.55,278.82 308.11,278.91 308.66,279 309.22,279.09 309.77,279.19 310.32,279.3 310.86,279.43 311.41,279.56 311.95,279.71 312.49,279.87 313.03,280.03 313.56,280.2 314.1,280.38 314.64,280.55 315.17,280.73 315.71,280.91 316.24,281.08 316.78,281.25 317.32,281.42 317.86,281.59 318.39,281.77 318.93,281.94 319.47,282.12 320,282.31 320.53,282.5 321.06,282.69 321.58,282.89 322.1,283.1 322.61,283.32 323.12,283.55 323.62,283.79 324.12,284.04 324.62,284.3 325.11,284.57 325.6,284.86 326.09,285.15 326.57,285.44 327.05,285.74 327.53,286.04 328.01,286.35 328.48,286.66 328.95,286.96 329.41,287.28 329.87,287.59 330.33,287.92 330.78,288.25 331.24,288.58 331.68,288.92 332.13,289.27 332.58,289.61 333.02,289.96 333.46,290.31 333.91,290.66 334.35,291 334.8,291.34 335.25,291.69 335.7,292.02 336.15,292.36 336.61,292.69 337.06,293.02 337.52,293.35 337.97,293.68 338.43,294.02 338.88,294.35 339.33,294.69 339.78,295.03 340.22,295.37 340.66,295.72 341.09,296.08 341.52,296.44 341.95,296.8 342.38,297.16 342.8,297.53 343.22,297.91 343.64,298.28 344.06,298.66 344.47,299.04 344.88,299.43 345.29,299.82 345.7,300.21 346.1,300.6 346.5,301" fill="none" stroke="#111" stroke-width="1.45" stroke-linejoin="round" stroke-linecap="round"/><line x1="235.2" y1="314" x2="235.2" y2="439" stroke="#4a3838" stroke-width="1.1" stroke-dasharray="2.3 3"/><line x1="378.4" y1="206.5" x2="383.6" y2="206.5" stroke="#777" stroke-width="0.7"/><text x="372.7" y="209.7" font-size="9.2" text-anchor="middle" fill="#1a1a1a" font-family="'Liberation Sans', Arial, sans-serif" font-weight="normal" stroke="#1a1a1a" stroke-width="0.28">0</text><line x1="380.4" y1="199.52" x2="383.6" y2="199.52" stroke="#777" stroke-width="0.7"/><line x1="380.4" y1="192.54" x2="383.6" y2="192.54" stroke="#777" stroke-width="0.7"/><line x1="380.4" y1="185.56" x2="383.6" y2="185.56" stroke="#777" stroke-width="0.7"/><line x1="380.4" y1="178.58" x2="383.6" y2="178.58" stroke="#777" stroke-width="0.7"/><line x1="378.4" y1="171.6" x2="383.6" y2="171.6" stroke="#777" stroke-width="0.7"/><text x="372.7" y="174.8" font-size="9.2" text-anchor="middle" fill="#1a1a1a" font-family="'Liberation Sans', Arial, sans-serif" font-weight="normal" stroke="#1a1a1a" stroke-width="0.28">1</text><line x1="380.4" y1="164.62" x2="383.6" y2="164.62" stroke="#777" stroke-width="0.7"/><line x1="380.4" y1="157.64" x2="383.6" y2="157.64" stroke="#777" stroke-width="0.7"/><line x1="380.4" y1="150.66" x2="383.6" y2="150.66" stroke="#777" stroke-width="0.7"/><line x1="380.4" y1="143.68" x2="383.6" y2="143.68" stroke="#777" stroke-width="0.7"/><line x1="378.4" y1="136.7" x2="383.6" y2="136.7" stroke="#777" stroke-width="0.7"/><text x="372.7" y="139.9" font-size="9.2" text-anchor="middle" fill="#1a1a1a" font-family="'Liberation Sans', Arial, sans-serif" font-weight="normal" stroke="#1a1a1a" stroke-width="0.28">2</text><line x1="380.4" y1="129.72" x2="383.6" y2="129.72" stroke="#777" stroke-width="0.7"/><line x1="380.4" y1="122.74" x2="383.6" y2="122.74" stroke="#777" stroke-width="0.7"/><line x1="380.4" y1="115.76" x2="383.6" y2="115.76" stroke="#777" stroke-width="0.7"/><line x1="380.4" y1="108.78" x2="383.6" y2="108.78" stroke="#777" stroke-width="0.7"/><line x1="378.4" y1="101.8" x2="383.6" y2="101.8" stroke="#777" stroke-width="0.7"/><text x="372.7" y="105" font-size="9.2" text-anchor="middle" fill="#1a1a1a" font-family="'Liberation Sans', Arial, sans-serif" font-weight="normal" stroke="#1a1a1a" stroke-width="0.28">3</text><line x1="380.4" y1="94.82" x2="383.6" y2="94.82" stroke="#777" stroke-width="0.7"/><line x1="380.4" y1="87.84" x2="383.6" y2="87.84" stroke="#777" stroke-width="0.7"/><line x1="380.4" y1="80.86" x2="383.6" y2="80.86" stroke="#777" stroke-width="0.7"/><line x1="380.4" y1="73.88" x2="383.6" y2="73.88" stroke="#777" stroke-width="0.7"/><line x1="378.4" y1="66.9" x2="383.6" y2="66.9" stroke="#777" stroke-width="0.7"/><text x="372.7" y="70.1" font-size="9.2" text-anchor="middle" fill="#1a1a1a" font-family="'Liberation Sans', Arial, sans-serif" font-weight="normal" stroke="#1a1a1a" stroke-width="0.28">4</text><line x1="380.4" y1="59.92" x2="383.6" y2="59.92" stroke="#777" stroke-width="0.7"/><line x1="380.4" y1="52.94" x2="383.6" y2="52.94" stroke="#777" stroke-width="0.7"/><line x1="380.4" y1="45.96" x2="383.6" y2="45.96" stroke="#777" stroke-width="0.7"/><line x1="380.4" y1="38.98" x2="383.6" y2="38.98" stroke="#777" stroke-width="0.7"/><line x1="378.4" y1="32" x2="383.6" y2="32" stroke="#777" stroke-width="0.7"/><text x="372.7" y="35.2" font-size="9.2" text-anchor="middle" fill="#1a1a1a" font-family="'Liberation Sans', Arial, sans-serif" font-weight="normal" stroke="#1a1a1a" stroke-width="0.28">5</text><line x1="380.4" y1="25.02" x2="383.6" y2="25.02" stroke="#777" stroke-width="0.7"/><line x1="386.8" y1="211.3" x2="386.8" y2="214.5" stroke="#777" stroke-width="0.7"/><line x1="395.6" y1="211.3" x2="395.6" y2="214.5" stroke="#777" stroke-width="0.7"/><line x1="404.4" y1="211.3" x2="404.4" y2="215.8" stroke="#777" stroke-width="0.7"/><text x="404.4" y="227.6" font-size="9.2" text-anchor="middle" fill="#1a1a1a" font-family="'Liberation Sans', Arial, sans-serif" font-weight="normal" stroke="#1a1a1a" stroke-width="0.28">852</text><line x1="413.2" y1="211.3" x2="413.2" y2="214.5" stroke="#777" stroke-width="0.7"/><line x1="422" y1="211.3" x2="422" y2="214.5" stroke="#777" stroke-width="0.7"/><line x1="430.8" y1="211.3" x2="430.8" y2="214.5" stroke="#777" stroke-width="0.7"/><line x1="439.6" y1="211.3" x2="439.6" y2="215.8" stroke="#777" stroke-width="0.7"/><text x="439.6" y="227.6" font-size="9.2" text-anchor="middle" fill="#1a1a1a" font-family="'Liberation Sans', Arial, sans-serif" font-weight="normal" stroke="#1a1a1a" stroke-width="0.28">853</text><line x1="448.4" y1="211.3" x2="448.4" y2="214.5" stroke="#777" stroke-width="0.7"/><line x1="457.2" y1="211.3" x2="457.2" y2="214.5" stroke="#777" stroke-width="0.7"/><line x1="466" y1="211.3" x2="466" y2="214.5" stroke="#777" stroke-width="0.7"/><line x1="474.8" y1="211.3" x2="474.8" y2="215.8" stroke="#777" stroke-width="0.7"/><text x="474.8" y="227.6" font-size="9.2" text-anchor="middle" fill="#1a1a1a" font-family="'Liberation Sans', Arial, sans-serif" font-weight="normal" stroke="#1a1a1a" stroke-width="0.28">854</text><line x1="483.6" y1="211.3" x2="483.6" y2="214.5" stroke="#777" stroke-width="0.7"/><line x1="492.4" y1="211.3" x2="492.4" y2="214.5" stroke="#777" stroke-width="0.7"/><line x1="501.2" y1="211.3" x2="501.2" y2="214.5" stroke="#777" stroke-width="0.7"/><line x1="510" y1="211.3" x2="510" y2="215.8" stroke="#777" stroke-width="0.7"/><text x="510" y="227.6" font-size="9.2" text-anchor="middle" fill="#1a1a1a" font-family="'Liberation Sans', Arial, sans-serif" font-weight="normal" stroke="#1a1a1a" stroke-width="0.28">855</text><rect x="383.6" y="24.3" width="132.9" height="187" fill="none" stroke="#8a8a8a" stroke-width="0.8"/><text x="450" y="240.8" font-size="9" text-anchor="middle" fill="#1a1a1a" font-family="'Liberation Sans', Arial, sans-serif" font-weight="normal" stroke="#1a1a1a" stroke-width="0.28">Photon energy (eV)</text><text x="387" y="35.9" font-size="8.8" text-anchor="start" fill="#111" font-family="'Liberation Sans', Arial, sans-serif" font-weight="normal" stroke="#111" stroke-width="0.28">NdNiO<tspan font-size="6" dy="2">2</tspan></text><text x="496.4" y="36" font-size="8.7" text-anchor="start" fill="#111" font-family="'Liberation Sans', Arial, sans-serif" font-weight="normal" stroke="#111" stroke-width="0.28">Exp.</text><polyline points="395.9,81.3 396.33,81.02 396.76,80.74 397.18,80.45 397.59,80.16 398.01,79.86 398.42,79.56 398.82,79.26 399.22,78.95 399.62,78.63 400.01,78.31 400.39,77.99 400.78,77.67 401.15,77.34 401.53,77 401.89,76.66 402.26,76.32 402.62,75.98 402.97,75.63 403.32,75.28 403.66,74.92 404,74.55 404.34,74.18 404.67,73.8 405,73.41 405.32,73.02 405.64,72.63 405.96,72.23 406.27,71.83 406.58,71.43 406.89,71.02 407.19,70.62 407.49,70.21 407.78,69.8 408.07,69.4 408.36,68.99 408.64,68.57 408.92,68.16 409.2,67.74 409.47,67.32 409.74,66.89 410.01,66.46 410.27,66.03 410.54,65.6 410.8,65.17 411.06,64.74 411.32,64.3 411.57,63.87 411.83,63.43 412.09,63 412.34,62.57 412.6,62.13 412.86,61.7 413.12,61.27 413.37,60.83 413.63,60.4 413.88,59.97 414.13,59.53 414.38,59.09 414.63,58.66 414.88,58.22 415.13,57.78 415.38,57.34 415.63,56.9 415.88,56.47 416.13,56.03 416.37,55.59 416.62,55.15 416.88,54.72 417.13,54.28 417.38,53.84 417.63,53.41 417.88,52.97 418.12,52.53 418.37,52.09 418.62,51.66 418.87,51.22 419.12,50.78 419.37,50.35 419.62,49.91 419.88,49.47 420.13,49.04 420.38,48.6 420.64,48.17 420.9,47.74 421.15,47.3 421.4,46.87 421.66,46.43 421.91,45.99 422.17,45.56 422.43,45.12 422.69,44.7 422.97,44.27 423.25,43.86 423.54,43.45 423.83,43.02 424.13,42.56 424.43,42.1 424.75,41.68 425.09,41.31 425.45,41.03 425.85,40.84 426.29,40.7 426.78,40.56 427.3,40.45 427.83,40.36 428.35,40.31 428.83,40.3 429.31,40.39 429.79,40.56 430.25,40.78 430.71,41.04 431.16,41.31 431.6,41.56 432.02,41.81 432.44,42.1 432.84,42.4 433.24,42.71 433.63,43.03 434.03,43.36 434.42,43.68 434.81,43.99 435.21,44.3 435.59,44.63 435.98,44.95 436.36,45.28 436.75,45.6 437.13,45.93 437.52,46.25 437.91,46.57 438.31,46.88 438.71,47.18 439.12,47.47 439.54,47.75 439.97,48.02 440.41,48.28 440.84,48.55 441.26,48.82 441.68,49.1 442.09,49.39 442.48,49.7 442.85,50.02 443.21,50.37 443.55,50.74 443.88,51.12 444.21,51.51 444.54,51.9 444.86,52.29 445.2,52.67 445.54,53.04 445.89,53.4 446.26,53.73 446.64,54.06 447.04,54.37 447.44,54.67 447.84,54.97 448.25,55.27 448.66,55.57 449.07,55.87 449.47,56.18 449.86,56.49 450.25,56.81 450.63,57.14 451.01,57.48 451.38,57.82 451.75,58.16 452.12,58.51 452.49,58.85 452.86,59.2 453.24,59.54 453.61,59.87 453.99,60.2 454.38,60.52 454.77,60.83 455.17,61.12 455.58,61.42 455.98,61.71 456.4,61.99 456.82,62.28 457.24,62.56 457.66,62.83 458.09,63.1 458.52,63.37 458.96,63.63 459.39,63.89 459.83,64.14 460.27,64.39 460.71,64.63 461.16,64.87 461.6,65.1 462.05,65.32 462.5,65.54 462.95,65.76 463.4,65.97 463.86,66.18 464.32,66.39 464.78,66.59 465.25,66.79 465.71,66.98 466.18,67.17 466.65,67.36 467.12,67.54 467.59,67.72 468.07,67.9 468.54,68.08 469.01,68.25 469.49,68.42 469.96,68.59 470.44,68.75 470.91,68.91 471.39,69.07 471.87,69.23 472.35,69.38 472.83,69.53 473.31,69.68 473.79,69.83 474.27,69.97 474.76,70.11 475.24,70.25 475.73,70.39 476.21,70.52 476.7,70.66 477.19,70.79 477.67,70.92 478.16,71.04 478.65,71.16 479.14,71.28 479.63,71.4 480.12,71.52 480.61,71.63 481.1,71.74 481.59,71.85 482.08,71.96 482.57,72.07 483.06,72.18 483.56,72.28 484.05,72.39 484.54,72.49 485.04,72.6 485.53,72.7 486.02,72.8 486.51,72.91 487.01,73.02 487.5,73.12 487.99,73.23 488.48,73.34 488.98,73.45 489.47,73.55 489.96,73.66 490.46,73.76 490.95,73.86 491.44,73.96 491.94,74.06 492.43,74.15 492.93,74.23 493.42,74.31 493.92,74.39 494.42,74.46 494.92,74.53 495.41,74.6 495.91,74.67 496.41,74.73 496.91,74.8 497.41,74.86 497.91,74.92 498.41,74.98 498.91,75.04 499.42,75.09 499.92,75.14 500.42,75.18 500.92,75.22 501.42,75.26 501.92,75.3 502.43,75.33 502.93,75.35 503.43,75.38 503.93,75.4 504.44,75.42 504.94,75.44 505.44,75.46 505.95,75.48 506.45,75.49 506.95,75.51 507.46,75.53 507.96,75.55 508.46,75.57 508.97,75.6 509.47,75.62 509.97,75.65 510.48,75.68 510.98,75.71 511.48,75.74 511.98,75.77 512.49,75.8 512.99,75.83 513.49,75.86 513.99,75.9 514.5,75.93 515,75.96 515.5,76" fill="none" stroke="#111" stroke-width="1.45" stroke-linejoin="round" stroke-linecap="round"/><line x1="427.7" y1="48.9" x2="427.7" y2="70.7" stroke="#111" stroke-width="1.1"/><text x="427.3" y="81.6" font-size="8.8" text-anchor="middle" fill="#111" font-family="'Liberation Sans', Arial, sans-serif" font-weight="normal" stroke="#111" stroke-width="0.28">A</text><line x1="421.8" y1="52" x2="421.8" y2="211" stroke="#4a3838" stroke-width="1.1" stroke-dasharray="2.3 3"/><rect x="400.8" y="174.3" width="34.4" height="20.9" fill="none" stroke="#333" stroke-width="0.8" stroke-dasharray="1.2 1.4"/><rect x="381.9" y="251.5" width="134.9" height="187.7" fill="none" stroke="#a0a0a0" stroke-width="1.1"/><line x1="383.1" y1="439.2" x2="383.1" y2="446.2" stroke="#a0a0a0" stroke-width="0.9"/><line x1="396.4" y1="439.2" x2="396.4" y2="443.2" stroke="#a0a0a0" stroke-width="0.9"/><line x1="409.7" y1="439.2" x2="409.7" y2="443.2" stroke="#a0a0a0" stroke-width="0.9"/><line x1="423" y1="439.2" x2="423" y2="443.2" stroke="#a0a0a0" stroke-width="0.9"/><line x1="436.3" y1="439.2" x2="436.3" y2="446.2" stroke="#a0a0a0" stroke-width="0.9"/><line x1="449.6" y1="439.2" x2="449.6" y2="443.2" stroke="#a0a0a0" stroke-width="0.9"/><line x1="462.9" y1="439.2" x2="462.9" y2="443.2" stroke="#a0a0a0" stroke-width="0.9"/><line x1="476.2" y1="439.2" x2="476.2" y2="443.2" stroke="#a0a0a0" stroke-width="0.9"/><line x1="489.5" y1="439.2" x2="489.5" y2="446.2" stroke="#a0a0a0" stroke-width="0.9"/><line x1="502.8" y1="439.2" x2="502.8" y2="443.2" stroke="#a0a0a0" stroke-width="0.9"/><line x1="516.1" y1="439.2" x2="516.1" y2="443.2" stroke="#a0a0a0" stroke-width="0.9"/><text x="384.4" y="458.8" font-size="9.4" text-anchor="middle" fill="#111" font-family="'Liberation Sans', Arial, sans-serif" font-weight="normal" stroke="#111" stroke-width="0.28">2.0</text><text x="437.3" y="458.8" font-size="9.4" text-anchor="middle" fill="#111" font-family="'Liberation Sans', Arial, sans-serif" font-weight="normal" stroke="#111" stroke-width="0.28">1.0</text><text x="489.8" y="458.8" font-size="9.4" text-anchor="middle" fill="#111" font-family="'Liberation Sans', Arial, sans-serif" font-weight="normal" stroke="#111" stroke-width="0.28">0</text><text x="449.9" y="473.2" font-size="9.2" text-anchor="middle" fill="#111" font-family="'Liberation Sans', Arial, sans-serif" font-weight="normal" stroke="#111" stroke-width="0.28">Energy loss (eV)</text><text x="374.7" y="343" font-size="9.4" text-anchor="middle" fill="#111" font-family="'Liberation Sans', Arial, sans-serif" font-weight="normal" transform="rotate(-90 374.7 343)" stroke="#111" stroke-width="0.28">Intensity (a.u.)</text><polyline points="384,290.16 384.75,289.68 385.5,289.22 386.25,289.24 387,289.17 387.75,289.03 388.5,289.27 389.25,289.2 390,288.99 390.75,289.14 391.5,288.98 392.25,288.42 393,288.35 393.75,288.72 394.5,288.78 395.25,288.47 396,288.29 396.75,288.32 397.5,288.54 398.25,288.56 399,288.47 399.75,288.81 400.5,288.98 401.25,288.88 402,288.71 402.75,288.4 403.5,288.21 404.25,288.14 405,288.31 405.75,288.44 406.5,288.24 407.25,288.09 408,288.01 408.75,287.93 409.5,288.03 410.25,288.06 411,288.01 411.75,288.41 412.5,288.83 413.25,288.62 414,288.11 414.75,287.77 415.5,288.01 416.25,288.43 417,288.17 417.75,287.81 418.5,288.14 419.25,288.44 420,288.15 420.75,287.85 421.5,287.36 422.25,286.39 423,285.38 423.75,284.58 424.5,283.87 425.25,283.19 426,282.51 426.75,281.58 427.5,280.52 428.25,279.36 429,278.26 429.75,277.52 430.5,276.6 431.25,275.61 432,274.88 432.75,274.22 433.5,273.76 434.25,273.44 435,272.63 435.75,271.35 436.5,270.84 437.25,271.26 438,271.89 438.75,272.41 439.5,272.42 440.25,272.35 441,273.08 441.75,273.94 442.5,274.38 443.25,274.69 444,274.9 444.75,275.25 445.5,275.82 446.25,276.34 447,276.74 447.75,277.02 448.5,277.36 449.25,277.92 450,278.54 450.75,279.19 451.5,279.59 452.25,279.63 453,279.68 453.75,280.05 454.5,280.63 455.25,281 456,281.26 456.75,281.58 457.5,282 458.25,282.49 459,282.95 459.75,283.51 460.5,283.91 461.25,283.99 462,284.12 462.75,284.71 463.5,285.21 464.25,285.32 465,285.72 465.75,286.1 466.5,286.39 467.25,287.12 468,287.64 468.75,287.77 469.5,287.99 470.25,288.19 471,288.4 471.75,288.8 472.5,289.53 473.25,289.95 474,289.91 474.75,290.19 475.5,290.94 476.25,291.02 477,290.53 477.75,290.81 478.5,290.94 479.25,290.08 480,289.32 480.75,289.01 481.5,288.36 482.25,287.38 483,286.58 483.75,285.85 484.5,284.51 485.25,282.6 486,280.58 486.75,278.21 487.5,274.5 488.25,270.65 489,268.74 489.75,269.88 490.5,272.58 491.25,275.63 492,278.3 492.75,281.6 493.5,285.08 494.25,287.63 495,288.84 495.75,289.76 496.5,290.06 497.25,290.42 498,291.63 498.75,292.34 499.5,292.03 500.25,291.71 501,291.69 501.75,291.76 502.5,291.68 503.25,291.51 504,291.49 504.75,291.64 505.5,291.87 506.25,292.03 507,292.11 507.75,292.23 508.5,292.38 509.25,292.63 510,292.53 510.75,291.88 511.5,291.9 512.25,292.74 513,293.04 513.75,292.56 514.5,292.23 515.25,292.24" fill="none" stroke="#0a0a0a" stroke-width="1.9" stroke-linejoin="round" stroke-linecap="round"/><polyline points="384,351.97 384.75,351.62 385.5,351.53 386.25,351.74 387,351.32 387.75,351.19 388.5,351.37 389.25,350.96 390,350.66 390.75,350.83 391.5,351.43 392.25,351.7 393,350.98 393.75,350.41 394.5,350.43 395.25,350.28 396,350.32 396.75,350.33 397.5,349.9 398.25,349.56 399,349.36 399.75,349.35 400.5,349.24 401.25,348.85 402,348.7 402.75,348.58 403.5,348.19 404.25,347.71 405,347.52 405.75,347.61 406.5,347.88 407.25,347.63 408,346.64 408.75,346.34 409.5,346.49 410.25,346.2 411,345.36 411.75,344.4 412.5,343.96 413.25,343.55 414,342.96 414.75,342.19 415.5,341.54 416.25,341.59 417,341.17 417.75,340.1 418.5,339.38 419.25,338.58 420,337.72 420.75,337.35 421.5,336.93 422.25,336.04 423,335.29 423.75,334.87 424.5,334.56 425.25,333.92 426,332.96 426.75,332.28 427.5,331.38 428.25,330.3 429,329.89 429.75,329.71 430.5,329.42 431.25,328.89 432,328.38 432.75,328.52 433.5,328.64 434.25,328.86 435,329.71 435.75,330.22 436.5,330.41 437.25,330.75 438,330.84 438.75,330.72 439.5,330.94 440.25,331.02 441,330.61 441.75,330.92 442.5,331.17 443.25,330.77 444,330.78 444.75,330.79 445.5,330.51 446.25,329.81 447,328.52 447.75,327.79 448.5,328.05 449.25,327.97 450,327.39 450.75,327.24 451.5,327.26 452.25,327.17 453,327.19 453.75,326.99 454.5,326.68 455.25,327.14 456,327.59 456.75,327.97 457.5,328.31 458.25,328.61 459,329.68 459.75,330.52 460.5,331.45 461.25,333.29 462,335.69 462.75,338.39 463.5,340.36 464.25,341.39 465,342.18 465.75,343.24 466.5,344.38 467.25,345.31 468,346.14 468.75,347.08 469.5,347.93 470.25,348.54 471,349.05 471.75,350.11 472.5,351.07 473.25,350.87 474,350.83 474.75,351.18 475.5,351.05 476.25,350.84 477,350.6 477.75,350.08 478.5,348.99 479.25,347.88 480,346.86 480.75,345.07 481.5,343.07 482.25,340.69 483,337.93 483.75,335.18 484.5,331.35 485.25,326.02 486,320.03 486.75,314.53 487.5,309.17 488.25,302.24 489,298.56 489.75,299.82 490.5,302.82 491.25,308.39 492,320.4 492.75,332.41 493.5,339.76 494.25,346.12 495,351.51 495.75,354.53 496.5,355.32 497.25,355.81 498,355.94 498.75,356.2 499.5,357.05 500.25,357.78 501,358 501.75,358.21 502.5,358.47 503.25,358.18 504,358.09 504.75,358.56 505.5,358.48 506.25,358.35 507,358.85 507.75,359.25 508.5,359.31 509.25,359.94 510,360.64 510.75,360.38 511.5,359.64 512.25,359.11 513,359.4 513.75,359.75 514.5,359.43 515.25,359.27" fill="none" stroke="#0a0a0a" stroke-width="1.9" stroke-linejoin="round" stroke-linecap="round"/><polyline points="384,401.7 384.75,401.23 385.5,400.13 386.25,399.32 387,399.36 387.75,399.52 388.5,399.26 389.25,398.97 390,398.76 390.75,398.25 391.5,398 392.25,398.53 393,398.93 393.75,398.65 394.5,397.69 395.25,396.79 396,396.1 396.75,395.87 397.5,395.99 398.25,395.26 399,394.61 399.75,395.04 400.5,395.35 401.25,394.5 402,393.32 402.75,393.08 403.5,393.17 404.25,392.58 405,391.85 405.75,391.78 406.5,392.23 407.25,391.9 408,390.49 408.75,389.61 409.5,388.92 410.25,388.09 411,387.99 411.75,388.37 412.5,388.63 413.25,387.82 414,386.99 414.75,387.07 415.5,386.44 416.25,385.47 417,385.32 417.75,385.16 418.5,384.89 419.25,384.39 420,383.7 420.75,384.06 421.5,384.74 422.25,384.71 423,384.48 423.75,384.32 424.5,383.6 425.25,382.66 426,382.06 426.75,381.28 427.5,380.67 428.25,380.76 429,381.61 429.75,381.82 430.5,381.41 431.25,381.2 432,380.53 432.75,380.18 433.5,379.94 434.25,379.59 435,380.21 435.75,380.44 436.5,379.77 437.25,379.64 438,379.94 438.75,380.19 439.5,380 440.25,379.71 441,379.57 441.75,378.94 442.5,378.66 443.25,378.85 444,378.51 444.75,378.62 445.5,378.75 446.25,378.33 447,378.62 447.75,378.97 448.5,378.41 449.25,377.23 450,376.49 450.75,376.92 451.5,377.46 452.25,377.38 453,377.38 453.75,377.49 454.5,377.22 455.25,377.11 456,376.93 456.75,376.26 457.5,376.47 458.25,377.22 459,376.6 459.75,375.64 460.5,376.22 461.25,377.61 462,378.27 462.75,379.12 463.5,379.98 464.25,381.07 465,382.22 465.75,383.2 466.5,384.12 467.25,385.2 468,386.42 468.75,387.61 469.5,388.67 470.25,389.83 471,390.94 471.75,391.68 472.5,392.52 473.25,393.56 474,394.41 474.75,395.15 475.5,395.62 476.25,395.97 477,396.42 477.75,396.63 478.5,396.66 479.25,396.64 480,396.53 480.75,396.5 481.5,396.53 482.25,395.68 483,393.7 483.75,391.21 484.5,388.81 485.25,386.43 486,383.32 486.75,379.75 487.5,376.01 488.25,373.12 489,372.2 489.75,373.05 490.5,374.76 491.25,376.8 492,378.9 492.75,382.27 493.5,386.44 494.25,390.81 495,394.97 495.75,398.02 496.5,400.1 497.25,401.93 498,403.41 498.75,404.98 499.5,406.8 500.25,408.79 501,411.2 501.75,413.89 502.5,416.48 503.25,418.37 504,419.11 504.75,419.48 505.5,419.74 506.25,420.14 507,420.67 507.75,420.49 508.5,420.26 509.25,420.42 510,420.37 510.75,420.45 511.5,420.53 512.25,420.32 513,420.22 513.75,420.26 514.5,420.19 515.25,420.1" fill="none" stroke="#0a0a0a" stroke-width="1.9" stroke-linejoin="round" stroke-linecap="round"/><text x="384" y="301.2" font-size="9.8" text-anchor="start" fill="#111" font-family="'Liberation Sans', Arial, sans-serif" font-weight="normal" stroke="#111" stroke-width="0.28">LaNiO<tspan font-size="6.8" dy="2.4">3</tspan></text><text x="384" y="361.7" font-size="9.8" text-anchor="start" fill="#111" font-family="'Liberation Sans', Arial, sans-serif" font-weight="normal" stroke="#111" stroke-width="0.28">LaNiO<tspan font-size="6.8" dy="2.4">2</tspan></text><text x="386.7" y="415.6" font-size="9.8" text-anchor="start" fill="#111" font-family="'Liberation Sans', Arial, sans-serif" font-weight="normal" stroke="#111" stroke-width="0.28">NdNiO<tspan font-size="6.8" dy="2.4">2</tspan></text><line x1="454" y1="309.8" x2="454" y2="320.9" stroke="#111" stroke-width="0.9"/><polyline points="452,318.4 454,321.9 456,318.4" fill="none" stroke="#111" stroke-width="0.9"/><line x1="458.1" y1="357.7" x2="458.1" y2="367.5" stroke="#111" stroke-width="0.9"/><polyline points="456.1,365 458.1,368.5 460.1,365" fill="none" stroke="#111" stroke-width="0.9"/><rect x="25.6" y="23.8" width="130" height="126.7" fill="none" stroke="#b0b0b0" stroke-width="0.8"/><line x1="25.6" y1="150.5" x2="25.6" y2="154.7" stroke="#b0b0b0" stroke-width="0.7"/><line x1="34.14" y1="150.5" x2="34.14" y2="152.7" stroke="#b0b0b0" stroke-width="0.7"/><line x1="42.68" y1="150.5" x2="42.68" y2="152.7" stroke="#b0b0b0" stroke-width="0.7"/><line x1="51.22" y1="150.5" x2="51.22" y2="152.7" stroke="#b0b0b0" stroke-width="0.7"/><line x1="59.76" y1="150.5" x2="59.76" y2="152.7" stroke="#b0b0b0" stroke-width="0.7"/><line x1="68.3" y1="150.5" x2="68.3" y2="154.7" stroke="#b0b0b0" stroke-width="0.7"/><line x1="76.84" y1="150.5" x2="76.84" y2="152.7" stroke="#b0b0b0" stroke-width="0.7"/><line x1="85.38" y1="150.5" x2="85.38" y2="152.7" stroke="#b0b0b0" stroke-width="0.7"/><line x1="93.92" y1="150.5" x2="93.92" y2="152.7" stroke="#b0b0b0" stroke-width="0.7"/><line x1="102.46" y1="150.5" x2="102.46" y2="152.7" stroke="#b0b0b0" stroke-width="0.7"/><line x1="111" y1="150.5" x2="111" y2="154.7" stroke="#b0b0b0" stroke-width="0.7"/><line x1="119.54" y1="150.5" x2="119.54" y2="152.7" stroke="#b0b0b0" stroke-width="0.7"/><line x1="128.08" y1="150.5" x2="128.08" y2="152.7" stroke="#b0b0b0" stroke-width="0.7"/><line x1="136.62" y1="150.5" x2="136.62" y2="152.7" stroke="#b0b0b0" stroke-width="0.7"/><line x1="145.16" y1="150.5" x2="145.16" y2="152.7" stroke="#b0b0b0" stroke-width="0.7"/><line x1="153.7" y1="150.5" x2="153.7" y2="154.7" stroke="#b0b0b0" stroke-width="0.7"/><rect x="25.6" y="156.8" width="130" height="105.4" fill="none" stroke="#b0b0b0" stroke-width="0.8"/><line x1="25.6" y1="262.2" x2="25.6" y2="266.4" stroke="#b0b0b0" stroke-width="0.7"/><line x1="34.14" y1="262.2" x2="34.14" y2="264.4" stroke="#b0b0b0" stroke-width="0.7"/><line x1="42.68" y1="262.2" x2="42.68" y2="264.4" stroke="#b0b0b0" stroke-width="0.7"/><line x1="51.22" y1="262.2" x2="51.22" y2="264.4" stroke="#b0b0b0" stroke-width="0.7"/><line x1="59.76" y1="262.2" x2="59.76" y2="264.4" stroke="#b0b0b0" stroke-width="0.7"/><line x1="68.3" y1="262.2" x2="68.3" y2="266.4" stroke="#b0b0b0" stroke-width="0.7"/><line x1="76.84" y1="262.2" x2="76.84" y2="264.4" stroke="#b0b0b0" stroke-width="0.7"/><line x1="85.38" y1="262.2" x2="85.38" y2="264.4" stroke="#b0b0b0" stroke-width="0.7"/><line x1="93.92" y1="262.2" x2="93.92" y2="264.4" stroke="#b0b0b0" stroke-width="0.7"/><line x1="102.46" y1="262.2" x2="102.46" y2="264.4" stroke="#b0b0b0" stroke-width="0.7"/><line x1="111" y1="262.2" x2="111" y2="266.4" stroke="#b0b0b0" stroke-width="0.7"/><line x1="119.54" y1="262.2" x2="119.54" y2="264.4" stroke="#b0b0b0" stroke-width="0.7"/><line x1="128.08" y1="262.2" x2="128.08" y2="264.4" stroke="#b0b0b0" stroke-width="0.7"/><line x1="136.62" y1="262.2" x2="136.62" y2="264.4" stroke="#b0b0b0" stroke-width="0.7"/><line x1="145.16" y1="262.2" x2="145.16" y2="264.4" stroke="#b0b0b0" stroke-width="0.7"/><line x1="153.7" y1="262.2" x2="153.7" y2="266.4" stroke="#b0b0b0" stroke-width="0.7"/><text x="25" y="276" font-size="6.6" text-anchor="middle" fill="#2a2a2a" font-family="'Liberation Sans', Arial, sans-serif" font-weight="normal" stroke="#2a2a2a" stroke-width="0.06">525</text><text x="68.3" y="276" font-size="6.6" text-anchor="middle" fill="#2a2a2a" font-family="'Liberation Sans', Arial, sans-serif" font-weight="normal" stroke="#2a2a2a" stroke-width="0.06">530</text><text x="111.1" y="276" font-size="6.6" text-anchor="middle" fill="#2a2a2a" font-family="'Liberation Sans', Arial, sans-serif" font-weight="normal" stroke="#2a2a2a" stroke-width="0.06">535</text><text x="154.2" y="276" font-size="6.6" text-anchor="middle" fill="#2a2a2a" font-family="'Liberation Sans', Arial, sans-serif" font-weight="normal" stroke="#2a2a2a" stroke-width="0.06">540</text><text x="90.6" y="285.6" font-size="6.1" text-anchor="middle" fill="#2a2a2a" font-family="'Liberation Sans', Arial, sans-serif" font-weight="normal" stroke="#2a2a2a" stroke-width="0.06">Photon energy (eV)</text><text x="19.8" y="97" font-size="6" text-anchor="middle" fill="#2a2a2a" font-family="'Liberation Sans', Arial, sans-serif" font-weight="normal" transform="rotate(-90 19.8 97)" stroke="#2a2a2a" stroke-width="0.06">XAS intensity (a.u.)</text><text x="30.1" y="31.5" font-size="6" text-anchor="start" fill="#1a1a1a" font-family="'Liberation Sans', Arial, sans-serif" font-weight="normal" stroke="#1a1a1a" stroke-width="0.06">XAS</text><text x="30.1" y="40.2" font-size="6" text-anchor="start" fill="#1a1a1a" font-family="'Liberation Sans', Arial, sans-serif" font-weight="normal" stroke="#1a1a1a" stroke-width="0.06">O K-edge</text><text x="28.2" y="100.6" font-size="6.2" text-anchor="start" fill="#1a1a1a" font-family="'Liberation Sans', Arial, sans-serif" font-weight="normal" stroke="#1a1a1a" stroke-width="0.06">LaNiO<tspan font-size="4.3" dy="1.6">3</tspan></text><text x="28.2" y="129.4" font-size="6.2" text-anchor="start" fill="#1a1a1a" font-family="'Liberation Sans', Arial, sans-serif" font-weight="normal" stroke="#1a1a1a" stroke-width="0.06">LaNiO<tspan font-size="4.3" dy="1.6">2</tspan></text><text x="30" y="186" font-size="6.2" text-anchor="start" fill="#1a1a1a" font-family="'Liberation Sans', Arial, sans-serif" font-weight="normal" stroke="#1a1a1a" stroke-width="0.06">NdNiO<tspan font-size="4.3" dy="1.6">3</tspan></text><text x="27.1" y="249.2" font-size="6.2" text-anchor="start" fill="#1a1a1a" font-family="'Liberation Sans', Arial, sans-serif" font-weight="normal" stroke="#1a1a1a" stroke-width="0.06">NdNiO<tspan font-size="4.3" dy="1.6">2</tspan></text><text x="138.5" y="246.2" font-size="6.2" text-anchor="start" fill="#1a1a1a" font-family="'Liberation Sans', Arial, sans-serif" font-weight="normal" stroke="#1a1a1a" stroke-width="0.06">STO</text><line x1="50.8" y1="44.5" x2="50.8" y2="49.5" stroke="#e04040" stroke-width="0.8" stroke-dasharray="1.1 0.7"/><polygon points="49.1,48.5 52.5,48.5 50.8,51.5" fill="#d82020"/><line x1="50.1" y1="189.5" x2="50.1" y2="195.2" stroke="#e04040" stroke-width="0.8" stroke-dasharray="1.1 0.7"/><polygon points="48.4,194.2 51.8,194.2 50.1,197.2" fill="#d82020"/><polyline points="55,257 55.39,256.99 55.78,256.98 56.17,256.96 56.55,256.92 56.92,256.88 57.29,256.83 57.66,256.77 58.02,256.71 58.37,256.64 58.72,256.56 59.06,256.48 59.4,256.39 59.73,256.29 60.06,256.2 60.38,256.1 60.69,255.99 61,255.88 61.3,255.77 61.59,255.66 61.88,255.55 62.16,255.43 62.43,255.29 62.7,255.13 62.97,254.95 63.23,254.74 63.49,254.52 63.74,254.29 63.99,254.03 64.24,253.77 64.48,253.49 64.71,253.21 64.95,252.92 65.18,252.62 65.4,252.31 65.62,252 65.84,251.7 66.05,251.39 66.26,251.08 66.47,250.78 66.67,250.48 66.87,250.19 67.07,249.9 67.25,249.61 67.43,249.32 67.61,249.01 67.77,248.71 67.93,248.39 68.09,248.08 68.25,247.76 68.4,247.44 68.56,247.12 68.71,246.8 68.87,246.48 69.02,246.16 69.19,245.85 69.35,245.54 69.53,245.24 69.71,244.94 69.89,244.65 70.09,244.37 70.3,244.05 70.53,243.72 70.76,243.37 71,243.02 71.24,242.69 71.49,242.39 71.73,242.13 71.98,241.91 72.21,241.77 72.44,241.7 72.66,241.73 72.88,241.83 73.1,242.01 73.32,242.25 73.53,242.54 73.74,242.87 73.95,243.23 74.16,243.6 74.37,243.97 74.58,244.33 74.78,244.67 74.98,244.98 75.18,245.27 75.38,245.58 75.56,245.91 75.74,246.24 75.92,246.59 76.09,246.93 76.27,247.27 76.45,247.6 76.63,247.93 76.81,248.23 77.01,248.53 77.21,248.79 77.42,249.04 77.64,249.25 77.87,249.42 78.12,249.57 78.4,249.7 78.7,249.84 79.02,249.97 79.36,250.09 79.71,250.21 80.07,250.31 80.44,250.4 80.81,250.48 81.17,250.54 81.53,250.58 81.88,250.6 82.22,250.59 82.56,250.56 82.9,250.51 83.23,250.43 83.57,250.34 83.91,250.24 84.25,250.12 84.59,250 84.93,249.88 85.26,249.75 85.6,249.63 85.93,249.52 86.27,249.41 86.59,249.28 86.92,249.13 87.25,248.98 87.57,248.82 87.89,248.67 88.22,248.52 88.54,248.38 88.87,248.25 89.2,248.15 89.53,248.06 89.87,248.01 90.21,247.99 90.55,247.97 90.91,247.95 91.26,247.93 91.61,247.92 91.97,247.91 92.32,247.9 92.66,247.9 93,247.92 93.34,247.98 93.67,248.07 94,248.19 94.33,248.33 94.66,248.48 94.99,248.63 95.32,248.77 95.65,248.89 95.99,249 96.33,249.09 96.67,249.18 97.01,249.28 97.36,249.37 97.71,249.47 98.05,249.56 98.4,249.65 98.75,249.73 99.1,249.81 99.44,249.87 99.78,249.92 100.12,249.96 100.46,249.99 100.79,250 101.12,249.98 101.44,249.92 101.76,249.82 102.08,249.7 102.4,249.55 102.71,249.38 103.03,249.19 103.34,249 103.65,248.8 103.96,248.6 104.27,248.4 104.59,248.22 104.9,248.05 105.22,247.89 105.53,247.74 105.84,247.58 106.15,247.42 106.47,247.26 106.78,247.1 107.09,246.94 107.4,246.77 107.71,246.61 108.02,246.45 108.34,246.29 108.65,246.14 108.96,245.98 109.28,245.83 109.59,245.68 109.91,245.54 110.23,245.39 110.55,245.23 110.88,245.06 111.2,244.89 111.53,244.72 111.85,244.55 112.18,244.39 112.51,244.25 112.83,244.12 113.16,244.02 113.49,243.95 113.81,243.91 114.14,243.9 114.46,243.94 114.79,244.02 115.11,244.12 115.44,244.25 115.76,244.4 116.09,244.56 116.41,244.73 116.74,244.9 117.06,245.07 117.39,245.24 117.72,245.39 118.04,245.52 118.37,245.65 118.7,245.79 119.03,245.94 119.36,246.09 119.68,246.25 120.01,246.4 120.34,246.54 120.67,246.67 121.01,246.78 121.34,246.87 121.67,246.94 122.01,246.99 122.34,247 122.68,246.99 123.02,246.95 123.36,246.9 123.7,246.83 124.04,246.75 124.39,246.67 124.73,246.57 125.07,246.47 125.42,246.38 125.76,246.28 126.11,246.19 126.45,246.11 126.8,246.04 127.14,245.98 127.49,245.92 127.84,245.86 128.18,245.79 128.53,245.73 128.88,245.67 129.23,245.61 129.58,245.55 129.94,245.49 130.29,245.44 130.63,245.38 130.98,245.34 131.33,245.3 131.68,245.26 132.02,245.24 132.36,245.22 132.71,245.2 133.04,245.2 133.38,245.22 133.72,245.26 134.06,245.33 134.39,245.41 134.72,245.52 135.06,245.64 135.39,245.77 135.72,245.92 136.05,246.07 136.38,246.22 136.7,246.38 137.03,246.54 137.35,246.7 137.67,246.85 137.99,246.99 138.31,247.14 138.62,247.28 138.94,247.43 139.25,247.58 139.56,247.73 139.88,247.89 140.19,248.05 140.5,248.21 140.8,248.38 141.11,248.54 141.42,248.72 141.72,248.89 142.02,249.07 142.33,249.25 142.63,249.44 142.93,249.62 143.22,249.81 143.52,250 143.81,250.2 144.11,250.4 144.4,250.6" fill="none" stroke="#c4c4c4" stroke-width="0.8" stroke-linejoin="round" stroke-linecap="round"/><line x1="73" y1="180.6" x2="73" y2="231" stroke="#b8b8b8" stroke-width="0.7" stroke-dasharray="2.5 1.8"/><line x1="115.6" y1="163" x2="115.6" y2="245" stroke="#b8b8b8" stroke-width="0.7" stroke-dasharray="2.5 1.8"/><polyline points="85.7,79.5 90.4,76.4 94.6,70.3 98.8,64.9 103.3,60.6 107.7,53.2 112.1,46.8 116.3,41.4 120.7,27.3 125.1,28.5 129.5,41.4 133.9,50.8 137.7,55.8 142,58.3 146.4,58.9 150.8,58.9 155.2,57.4" fill="none" stroke="#8a8a8a" stroke-width="0.6" stroke-linejoin="round" stroke-linecap="round"/><polyline points="85.9,131.9 90.4,130.3 95.1,127.3 99.4,124.9 103.8,122.2 108.1,117.4 112.3,112.4 116.5,104.8 120.5,83.7 124.9,77 129.4,84.6 133.6,94.8 138.1,101 142.3,106.5 146.9,109.4 151.1,111.9 155.6,115.2" fill="none" stroke="#8a8a8a" stroke-width="0.6" stroke-linejoin="round" stroke-linecap="round"/><g fill="#a8a8a8" stroke="#6e6e6e" stroke-width="0.6"><circle cx="25.9" cy="89.6" r="2.2"/><circle cx="30.3" cy="89.6" r="2.2"/><circle cx="34.6" cy="89.6" r="2.2"/><circle cx="38.9" cy="89.6" r="2.2"/><circle cx="85.7" cy="79.5" r="2.2"/><circle cx="90.4" cy="76.4" r="2.2"/><circle cx="94.6" cy="70.3" r="2.2"/><circle cx="98.8" cy="64.9" r="2.2"/><circle cx="103.3" cy="60.6" r="2.2"/><circle cx="107.7" cy="53.2" r="2.2"/><circle cx="112.1" cy="46.8" r="2.2"/><circle cx="116.3" cy="41.4" r="2.2"/><circle cx="120.7" cy="27.3" r="2.2"/><circle cx="125.1" cy="28.5" r="2.2"/><circle cx="129.5" cy="41.4" r="2.2"/><circle cx="133.9" cy="50.8" r="2.2"/><circle cx="137.7" cy="55.8" r="2.2"/><circle cx="142" cy="58.3" r="2.2"/><circle cx="146.4" cy="58.9" r="2.2"/><circle cx="150.8" cy="58.9" r="2.2"/><circle cx="155.2" cy="57.4" r="2.2"/></g><g fill="#a8a8a8" stroke="#6e6e6e" stroke-width="0.6"><circle cx="25.9" cy="138.7" r="2.2"/><circle cx="30.3" cy="138.7" r="2.2"/><circle cx="34.6" cy="138.7" r="2.2"/><circle cx="38.9" cy="138.7" r="2.2"/><circle cx="85.9" cy="131.9" r="2.2"/><circle cx="90.4" cy="130.3" r="2.2"/><circle cx="95.1" cy="127.3" r="2.2"/><circle cx="99.4" cy="124.9" r="2.2"/><circle cx="103.8" cy="122.2" r="2.2"/><circle cx="108.1" cy="117.4" r="2.2"/><circle cx="112.3" cy="112.4" r="2.2"/><circle cx="116.5" cy="104.8" r="2.2"/><circle cx="120.5" cy="83.7" r="2.2"/><circle cx="124.9" cy="77" r="2.2"/><circle cx="129.4" cy="84.6" r="2.2"/><circle cx="133.6" cy="94.8" r="2.2"/><circle cx="138.1" cy="101" r="2.2"/><circle cx="142.3" cy="106.5" r="2.2"/><circle cx="146.9" cy="109.4" r="2.2"/><circle cx="151.1" cy="111.9" r="2.2"/><circle cx="155.6" cy="115.2" r="2.2"/></g><g fill="#a4a4a4" stroke="#6a6a6a" stroke-width="0.6"><circle cx="41.5" cy="89.6" r="2.2"/><circle cx="42.7" cy="89.53" r="2.2"/><circle cx="43.86" cy="89.26" r="2.2"/><circle cx="44.62" cy="88.56" r="2.2"/><circle cx="45.42" cy="87.07" r="2.2"/><circle cx="45.89" cy="85.44" r="2.2"/><circle cx="46.24" cy="83.77" r="2.2"/><circle cx="46.53" cy="82.1" r="2.2"/><circle cx="46.76" cy="80.41" r="2.2"/><circle cx="46.96" cy="78.73" r="2.2"/><circle cx="47.17" cy="77.04" r="2.2"/><circle cx="47.39" cy="75.35" r="2.2"/><circle cx="47.6" cy="73.67" r="2.2"/><circle cx="47.82" cy="71.98" r="2.2"/><circle cx="48.03" cy="70.29" r="2.2"/><circle cx="48.26" cy="68.61" r="2.2"/><circle cx="48.51" cy="66.93" r="2.2"/><circle cx="48.77" cy="65.25" r="2.2"/><circle cx="49.04" cy="63.57" r="2.2"/><circle cx="49.35" cy="61.9" r="2.2"/><circle cx="49.73" cy="60.24" r="2.2"/><circle cx="50.17" cy="58.6" r="2.2"/></g><g fill="#909090" stroke="#3e3e3e" stroke-width="0.6"><circle cx="50.2" cy="58.51" r="2.2"/><circle cx="50.45" cy="57.75" r="2.2"/><circle cx="50.78" cy="57.02" r="2.2"/><circle cx="51.4" cy="56.61" r="2.2"/><circle cx="52.12" cy="56.96" r="2.2"/><circle cx="52.75" cy="57.45" r="2.2"/><circle cx="53.24" cy="58.08" r="2.2"/><circle cx="53.61" cy="58.79" r="2.2"/><circle cx="53.92" cy="59.52" r="2.2"/><circle cx="54.21" cy="60.27" r="2.2"/><circle cx="54.51" cy="61.01" r="2.2"/><circle cx="54.8" cy="61.76" r="2.2"/><circle cx="55.08" cy="62.51" r="2.2"/><circle cx="55.34" cy="63.26" r="2.2"/><circle cx="55.59" cy="64.02" r="2.2"/><circle cx="55.85" cy="64.78" r="2.2"/><circle cx="56.12" cy="65.53" r="2.2"/><circle cx="56.41" cy="66.28" r="2.2"/><circle cx="56.72" cy="67.01" r="2.2"/><circle cx="57.04" cy="67.75" r="2.2"/><circle cx="57.38" cy="68.47" r="2.2"/><circle cx="57.73" cy="69.19" r="2.2"/><circle cx="58.1" cy="69.9" r="2.2"/><circle cx="58.48" cy="70.61" r="2.2"/><circle cx="58.88" cy="71.3" r="2.2"/><circle cx="59.3" cy="71.98" r="2.2"/><circle cx="59.73" cy="72.65" r="2.2"/><circle cx="60.19" cy="73.31" r="2.2"/><circle cx="60.66" cy="73.95" r="2.2"/><circle cx="61.16" cy="74.58" r="2.2"/><circle cx="61.69" cy="75.18" r="2.2"/><circle cx="62.25" cy="75.75" r="2.2"/><circle cx="62.84" cy="76.29" r="2.2"/><circle cx="63.45" cy="76.81" r="2.2"/><circle cx="64.07" cy="77.31" r="2.2"/><circle cx="64.72" cy="77.78" r="2.2"/><circle cx="65.39" cy="78.22" r="2.2"/><circle cx="66.07" cy="78.64" r="2.2"/><circle cx="66.76" cy="79.04" r="2.2"/><circle cx="67.47" cy="79.41" r="2.2"/><circle cx="68.19" cy="79.76" r="2.2"/><circle cx="68.92" cy="80.08" r="2.2"/><circle cx="69.67" cy="80.38" r="2.2"/><circle cx="70.42" cy="80.65" r="2.2"/><circle cx="71.17" cy="80.91" r="2.2"/><circle cx="71.93" cy="81.16" r="2.2"/><circle cx="72.7" cy="81.38" r="2.2"/><circle cx="73.49" cy="81.54" r="2.2"/><circle cx="74.28" cy="81.62" r="2.2"/><circle cx="75.08" cy="81.68" r="2.2"/><circle cx="75.88" cy="81.74" r="2.2"/><circle cx="76.68" cy="81.77" r="2.2"/><circle cx="77.48" cy="81.8" r="2.2"/><circle cx="78.28" cy="81.79" r="2.2"/><circle cx="79.07" cy="81.72" r="2.2"/><circle cx="79.86" cy="81.58" r="2.2"/><circle cx="80.64" cy="81.4" r="2.2"/><circle cx="81.42" cy="81.22" r="2.2"/><circle cx="82.2" cy="81.03" r="2.2"/><circle cx="82.96" cy="80.8" r="2.2"/><circle cx="83.72" cy="80.54" r="2.2"/><circle cx="84.47" cy="80.25" r="2.2"/></g><g fill="#909090" stroke="#3e3e3e" stroke-width="0.6"><circle cx="40.5" cy="138.7" r="2.2"/><circle cx="41.3" cy="138.66" r="2.2"/><circle cx="42.1" cy="138.6" r="2.2"/><circle cx="42.89" cy="138.51" r="2.2"/><circle cx="43.68" cy="138.4" r="2.2"/><circle cx="44.47" cy="138.24" r="2.2"/><circle cx="45.25" cy="138.06" r="2.2"/><circle cx="46.02" cy="137.86" r="2.2"/><circle cx="46.79" cy="137.65" r="2.2"/><circle cx="47.57" cy="137.45" r="2.2"/><circle cx="48.34" cy="137.23" r="2.2"/><circle cx="49.1" cy="137" r="2.2"/><circle cx="49.87" cy="136.77" r="2.2"/><circle cx="50.64" cy="136.56" r="2.2"/><circle cx="51.42" cy="136.38" r="2.2"/><circle cx="52.2" cy="136.21" r="2.2"/><circle cx="52.98" cy="136.03" r="2.2"/><circle cx="53.76" cy="135.83" r="2.2"/><circle cx="54.53" cy="135.62" r="2.2"/><circle cx="55.3" cy="135.39" r="2.2"/><circle cx="56.06" cy="135.16" r="2.2"/><circle cx="56.83" cy="134.95" r="2.2"/><circle cx="57.6" cy="134.73" r="2.2"/><circle cx="58.37" cy="134.51" r="2.2"/><circle cx="59.14" cy="134.3" r="2.2"/><circle cx="59.92" cy="134.1" r="2.2"/><circle cx="60.7" cy="133.95" r="2.2"/><circle cx="61.49" cy="133.83" r="2.2"/><circle cx="62.29" cy="133.72" r="2.2"/><circle cx="63.08" cy="133.63" r="2.2"/><circle cx="63.88" cy="133.55" r="2.2"/><circle cx="64.68" cy="133.51" r="2.2"/><circle cx="65.48" cy="133.51" r="2.2"/><circle cx="66.27" cy="133.62" r="2.2"/><circle cx="67.05" cy="133.8" r="2.2"/><circle cx="67.82" cy="134.02" r="2.2"/><circle cx="68.59" cy="134.22" r="2.2"/><circle cx="69.38" cy="134.37" r="2.2"/><circle cx="70.16" cy="134.53" r="2.2"/><circle cx="70.95" cy="134.68" r="2.2"/><circle cx="71.74" cy="134.81" r="2.2"/><circle cx="72.53" cy="134.89" r="2.2"/><circle cx="73.33" cy="134.89" r="2.2"/><circle cx="74.13" cy="134.83" r="2.2"/><circle cx="74.92" cy="134.71" r="2.2"/><circle cx="75.71" cy="134.57" r="2.2"/><circle cx="76.49" cy="134.4" r="2.2"/><circle cx="77.27" cy="134.24" r="2.2"/><circle cx="78.05" cy="134.04" r="2.2"/><circle cx="78.81" cy="133.8" r="2.2"/><circle cx="79.57" cy="133.55" r="2.2"/><circle cx="80.33" cy="133.3" r="2.2"/><circle cx="81.1" cy="133.07" r="2.2"/><circle cx="81.87" cy="132.87" r="2.2"/><circle cx="82.65" cy="132.67" r="2.2"/><circle cx="83.42" cy="132.48" r="2.2"/><circle cx="84.2" cy="132.29" r="2.2"/></g><g fill="#a6a6a6" stroke="#5a5a5a" stroke-width="0.6"><circle cx="24.5" cy="225.5" r="2.2"/><circle cx="25.36" cy="225.5" r="2.2"/><circle cx="26.22" cy="225.5" r="2.2"/><circle cx="27.08" cy="225.49" r="2.2"/><circle cx="27.94" cy="225.49" r="2.2"/><circle cx="28.8" cy="225.49" r="2.2"/><circle cx="29.66" cy="225.48" r="2.2"/><circle cx="30.52" cy="225.47" r="2.2"/><circle cx="31.38" cy="225.46" r="2.2"/><circle cx="32.24" cy="225.45" r="2.2"/><circle cx="33.1" cy="225.44" r="2.2"/><circle cx="33.96" cy="225.43" r="2.2"/><circle cx="34.82" cy="225.42" r="2.2"/><circle cx="35.68" cy="225.4" r="2.2"/><circle cx="36.54" cy="225.38" r="2.2"/><circle cx="37.4" cy="225.37" r="2.2"/><circle cx="38.26" cy="225.35" r="2.2"/><circle cx="39.12" cy="225.32" r="2.2"/><circle cx="39.98" cy="225.3" r="2.2"/><circle cx="40.84" cy="225.26" r="2.2"/><circle cx="41.7" cy="225.16" r="2.2"/><circle cx="42.56" cy="225" r="2.2"/><circle cx="43.42" cy="224.78" r="2.2"/><circle cx="44.28" cy="224.46" r="2.2"/><circle cx="45.14" cy="222.79" r="2.2"/><circle cx="46" cy="220" r="2.2"/><circle cx="46.86" cy="215.72" r="2.2"/><circle cx="47.72" cy="211.01" r="2.2"/><circle cx="48.58" cy="208.37" r="2.2"/><circle cx="49.44" cy="206.22" r="2.2"/><circle cx="50.3" cy="204.73" r="2.2"/><circle cx="51.16" cy="204.31" r="2.2"/><circle cx="52.02" cy="204.74" r="2.2"/><circle cx="52.88" cy="205.61" r="2.2"/><circle cx="53.74" cy="206.67" r="2.2"/><circle cx="54.6" cy="207.97" r="2.2"/><circle cx="55.46" cy="209.87" r="2.2"/><circle cx="56.32" cy="211.82" r="2.2"/><circle cx="57.18" cy="213.24" r="2.2"/><circle cx="58.04" cy="214.43" r="2.2"/><circle cx="58.9" cy="215.5" r="2.2"/><circle cx="59.76" cy="216.22" r="2.2"/><circle cx="60.62" cy="216.35" r="2.2"/><circle cx="61.48" cy="215.32" r="2.2"/><circle cx="62.34" cy="213.5" r="2.2"/><circle cx="63.2" cy="211.55" r="2.2"/><circle cx="64.06" cy="209.32" r="2.2"/><circle cx="64.92" cy="206.67" r="2.2"/><circle cx="65.78" cy="203.77" r="2.2"/><circle cx="66.64" cy="200.62" r="2.2"/><circle cx="67.5" cy="197.07" r="2.2"/><circle cx="68.36" cy="193.31" r="2.2"/><circle cx="69.22" cy="189.18" r="2.2"/><circle cx="70.08" cy="184.71" r="2.2"/><circle cx="70.94" cy="181.18" r="2.2"/><circle cx="71.8" cy="178.67" r="2.2"/><circle cx="72.66" cy="176.51" r="2.2"/><circle cx="73.52" cy="175.29" r="2.2"/><circle cx="74.38" cy="175.37" r="2.2"/><circle cx="75.24" cy="176.16" r="2.2"/><circle cx="76.1" cy="177.36" r="2.2"/><circle cx="76.96" cy="179.09" r="2.2"/><circle cx="77.82" cy="182.34" r="2.2"/><circle cx="78.68" cy="185.9" r="2.2"/><circle cx="79.54" cy="188.69" r="2.2"/><circle cx="80.4" cy="191.34" r="2.2"/><circle cx="81.26" cy="193.62" r="2.2"/><circle cx="82.12" cy="195.17" r="2.2"/><circle cx="82.98" cy="196.33" r="2.2"/><circle cx="83.84" cy="197.2" r="2.2"/><circle cx="84.7" cy="197.49" r="2.2"/><circle cx="85.56" cy="196.97" r="2.2"/><circle cx="86.42" cy="195.87" r="2.2"/><circle cx="87.28" cy="194.51" r="2.2"/><circle cx="88.14" cy="192.29" r="2.2"/><circle cx="89" cy="189.44" r="2.2"/><circle cx="89.86" cy="186.46" r="2.2"/><circle cx="90.72" cy="183.4" r="2.2"/><circle cx="91.58" cy="180.04" r="2.2"/><circle cx="92.44" cy="177.16" r="2.2"/><circle cx="93.3" cy="175.17" r="2.2"/><circle cx="94.16" cy="173.48" r="2.2"/><circle cx="95.02" cy="172.1" r="2.2"/><circle cx="95.88" cy="171.1" r="2.2"/><circle cx="96.74" cy="170.43" r="2.2"/><circle cx="97.6" cy="169.88" r="2.2"/><circle cx="98.46" cy="169.41" r="2.2"/><circle cx="99.32" cy="169.02" r="2.2"/><circle cx="100.18" cy="168.7" r="2.2"/><circle cx="101.04" cy="168.43" r="2.2"/><circle cx="101.9" cy="168.21" r="2.2"/><circle cx="102.76" cy="168.03" r="2.2"/><circle cx="103.62" cy="167.87" r="2.2"/><circle cx="104.48" cy="167.72" r="2.2"/><circle cx="105.34" cy="167.62" r="2.2"/><circle cx="106.2" cy="167.53" r="2.2"/><circle cx="107.06" cy="167.43" r="2.2"/><circle cx="107.92" cy="167.31" r="2.2"/><circle cx="108.78" cy="167.13" r="2.2"/><circle cx="109.64" cy="166.71" r="2.2"/><circle cx="110.5" cy="165.88" r="2.2"/><circle cx="111.36" cy="164.83" r="2.2"/><circle cx="112.22" cy="163.78" r="2.2"/><circle cx="113.08" cy="162.93" r="2.2"/><circle cx="113.94" cy="162.15" r="2.2"/><circle cx="114.8" cy="161.33" r="2.2"/><circle cx="115.66" cy="160.6" r="2.2"/><circle cx="116.52" cy="160.05" r="2.2"/><circle cx="117.38" cy="159.8" r="2.2"/><circle cx="118.24" cy="160.03" r="2.2"/><circle cx="119.1" cy="160.75" r="2.2"/><circle cx="119.96" cy="161.75" r="2.2"/><circle cx="120.82" cy="162.79" r="2.2"/><circle cx="121.68" cy="163.85" r="2.2"/><circle cx="122.54" cy="165.11" r="2.2"/><circle cx="123.4" cy="166.43" r="2.2"/><circle cx="124.26" cy="167.68" r="2.2"/><circle cx="125.12" cy="168.83" r="2.2"/><circle cx="125.98" cy="170" r="2.2"/><circle cx="126.84" cy="171.03" r="2.2"/><circle cx="127.7" cy="171.7" r="2.2"/><circle cx="128.56" cy="172.06" r="2.2"/><circle cx="129.42" cy="172.32" r="2.2"/><circle cx="130.28" cy="172.52" r="2.2"/><circle cx="131.14" cy="172.71" r="2.2"/><circle cx="132" cy="172.93" r="2.2"/><circle cx="132.86" cy="173.24" r="2.2"/><circle cx="133.72" cy="173.69" r="2.2"/><circle cx="134.58" cy="174.3" r="2.2"/><circle cx="135.44" cy="175.03" r="2.2"/><circle cx="136.3" cy="175.83" r="2.2"/><circle cx="137.16" cy="176.66" r="2.2"/><circle cx="138.02" cy="177.56" r="2.2"/><circle cx="138.88" cy="178.58" r="2.2"/><circle cx="139.74" cy="179.72" r="2.2"/><circle cx="140.6" cy="181.08" r="2.2"/><circle cx="141.46" cy="182.61" r="2.2"/><circle cx="142.32" cy="183.98" r="2.2"/><circle cx="143.18" cy="185.21" r="2.2"/><circle cx="144.04" cy="186.35" r="2.2"/></g><g fill="#a6a6a6" stroke="#5a5a5a" stroke-width="0.6"><circle cx="24.5" cy="256.8" r="2.2"/><circle cx="25.36" cy="256.8" r="2.2"/><circle cx="26.22" cy="256.8" r="2.2"/><circle cx="27.08" cy="256.8" r="2.2"/><circle cx="27.94" cy="256.8" r="2.2"/><circle cx="28.8" cy="256.8" r="2.2"/><circle cx="29.66" cy="256.8" r="2.2"/><circle cx="30.52" cy="256.8" r="2.2"/><circle cx="31.38" cy="256.8" r="2.2"/><circle cx="32.24" cy="256.8" r="2.2"/><circle cx="33.1" cy="256.8" r="2.2"/><circle cx="33.96" cy="256.8" r="2.2"/><circle cx="34.82" cy="256.8" r="2.2"/><circle cx="35.68" cy="256.8" r="2.2"/><circle cx="36.54" cy="256.8" r="2.2"/><circle cx="37.4" cy="256.8" r="2.2"/><circle cx="38.26" cy="256.8" r="2.2"/><circle cx="39.12" cy="256.8" r="2.2"/><circle cx="39.98" cy="256.8" r="2.2"/><circle cx="40.84" cy="256.8" r="2.2"/><circle cx="41.7" cy="256.79" r="2.2"/><circle cx="42.56" cy="256.78" r="2.2"/><circle cx="43.42" cy="256.77" r="2.2"/><circle cx="44.28" cy="256.75" r="2.2"/><circle cx="45.14" cy="256.72" r="2.2"/><circle cx="46" cy="256.69" r="2.2"/><circle cx="46.86" cy="256.66" r="2.2"/><circle cx="47.72" cy="256.62" r="2.2"/><circle cx="48.58" cy="256.57" r="2.2"/><circle cx="49.44" cy="256.52" r="2.2"/><circle cx="50.3" cy="256.46" r="2.2"/><circle cx="51.16" cy="256.4" r="2.2"/><circle cx="52.02" cy="256.32" r="2.2"/><circle cx="52.88" cy="256.18" r="2.2"/><circle cx="53.74" cy="255.76" r="2.2"/><circle cx="54.6" cy="255.14" r="2.2"/><circle cx="55.46" cy="254.39" r="2.2"/><circle cx="56.32" cy="253.6" r="2.2"/><circle cx="57.18" cy="252.85" r="2.2"/><circle cx="58.04" cy="252.05" r="2.2"/><circle cx="58.9" cy="251.18" r="2.2"/><circle cx="59.76" cy="250.24" r="2.2"/><circle cx="60.62" cy="249.26" r="2.2"/><circle cx="61.48" cy="248.26" r="2.2"/><circle cx="62.34" cy="247.26" r="2.2"/><circle cx="63.2" cy="246.27" r="2.2"/><circle cx="64.06" cy="245.25" r="2.2"/><circle cx="64.92" cy="244.2" r="2.2"/><circle cx="65.78" cy="243.14" r="2.2"/><circle cx="66.64" cy="242.09" r="2.2"/><circle cx="67.5" cy="241.07" r="2.2"/><circle cx="68.36" cy="240.1" r="2.2"/><circle cx="69.22" cy="239.15" r="2.2"/><circle cx="70.08" cy="238.22" r="2.2"/><circle cx="70.94" cy="237.31" r="2.2"/><circle cx="71.8" cy="236.42" r="2.2"/><circle cx="72.66" cy="235.54" r="2.2"/><circle cx="73.52" cy="234.68" r="2.2"/><circle cx="74.38" cy="233.83" r="2.2"/><circle cx="75.24" cy="232.98" r="2.2"/><circle cx="76.1" cy="232.15" r="2.2"/><circle cx="76.96" cy="231.34" r="2.2"/><circle cx="77.82" cy="230.55" r="2.2"/><circle cx="78.68" cy="229.78" r="2.2"/><circle cx="79.54" cy="229.05" r="2.2"/><circle cx="80.4" cy="228.37" r="2.2"/><circle cx="81.26" cy="227.74" r="2.2"/><circle cx="82.12" cy="227.1" r="2.2"/><circle cx="82.98" cy="226.44" r="2.2"/><circle cx="83.84" cy="225.71" r="2.2"/><circle cx="84.7" cy="224.9" r="2.2"/><circle cx="85.56" cy="223.96" r="2.2"/><circle cx="86.42" cy="222.9" r="2.2"/><circle cx="87.28" cy="221.77" r="2.2"/><circle cx="88.14" cy="220.58" r="2.2"/><circle cx="89" cy="219.38" r="2.2"/><circle cx="89.86" cy="218.19" r="2.2"/><circle cx="90.72" cy="217.01" r="2.2"/><circle cx="91.58" cy="215.78" r="2.2"/><circle cx="92.44" cy="214.53" r="2.2"/><circle cx="93.3" cy="213.3" r="2.2"/><circle cx="94.16" cy="212.1" r="2.2"/><circle cx="95.02" cy="210.97" r="2.2"/><circle cx="95.88" cy="209.78" r="2.2"/><circle cx="96.74" cy="208.58" r="2.2"/><circle cx="97.6" cy="207.71" r="2.2"/><circle cx="98.46" cy="207.36" r="2.2"/><circle cx="99.32" cy="207.13" r="2.2"/><circle cx="100.18" cy="206.96" r="2.2"/><circle cx="101.04" cy="206.85" r="2.2"/><circle cx="101.9" cy="206.8" r="2.2"/><circle cx="102.76" cy="206.87" r="2.2"/><circle cx="103.62" cy="207.05" r="2.2"/><circle cx="104.48" cy="207.27" r="2.2"/><circle cx="105.34" cy="207.45" r="2.2"/><circle cx="106.2" cy="207.49" r="2.2"/><circle cx="107.06" cy="207.18" r="2.2"/><circle cx="107.92" cy="206.59" r="2.2"/><circle cx="108.78" cy="205.88" r="2.2"/><circle cx="109.64" cy="205.22" r="2.2"/><circle cx="110.5" cy="204.72" r="2.2"/><circle cx="111.36" cy="204.22" r="2.2"/><circle cx="112.22" cy="203.75" r="2.2"/><circle cx="113.08" cy="203.34" r="2.2"/><circle cx="113.94" cy="203.02" r="2.2"/><circle cx="114.8" cy="202.76" r="2.2"/><circle cx="115.66" cy="202.52" r="2.2"/><circle cx="116.52" cy="202.31" r="2.2"/><circle cx="117.38" cy="202.16" r="2.2"/><circle cx="118.24" cy="202.1" r="2.2"/><circle cx="119.1" cy="202.16" r="2.2"/><circle cx="119.96" cy="202.35" r="2.2"/><circle cx="120.82" cy="202.61" r="2.2"/><circle cx="121.68" cy="202.89" r="2.2"/><circle cx="122.54" cy="203.2" r="2.2"/><circle cx="123.4" cy="203.59" r="2.2"/><circle cx="124.26" cy="204.04" r="2.2"/><circle cx="125.12" cy="204.52" r="2.2"/><circle cx="125.98" cy="204.99" r="2.2"/><circle cx="126.84" cy="205.47" r="2.2"/><circle cx="127.7" cy="205.97" r="2.2"/><circle cx="128.56" cy="206.48" r="2.2"/><circle cx="129.42" cy="206.98" r="2.2"/><circle cx="130.28" cy="207.44" r="2.2"/><circle cx="131.14" cy="207.85" r="2.2"/><circle cx="132" cy="208.24" r="2.2"/><circle cx="132.86" cy="208.61" r="2.2"/><circle cx="133.72" cy="208.97" r="2.2"/><circle cx="134.58" cy="209.33" r="2.2"/><circle cx="135.44" cy="209.68" r="2.2"/><circle cx="136.3" cy="210.02" r="2.2"/><circle cx="137.16" cy="210.35" r="2.2"/><circle cx="138.02" cy="210.68" r="2.2"/><circle cx="138.88" cy="211.02" r="2.2"/><circle cx="139.74" cy="211.39" r="2.2"/><circle cx="140.6" cy="211.77" r="2.2"/><circle cx="141.46" cy="212.18" r="2.2"/><circle cx="142.32" cy="212.6" r="2.2"/><circle cx="143.18" cy="213.05" r="2.2"/><circle cx="144.04" cy="213.5" r="2.2"/></g><rect x="23.4" y="298.8" width="135.1" height="73.5" fill="none" stroke="#b0b0b0" stroke-width="0.8"/><line x1="34.6" y1="372.3" x2="34.6" y2="375.9" stroke="#b0b0b0" stroke-width="0.7"/><text x="34.6" y="382.3" font-size="6.2" text-anchor="middle" fill="#2a2a2a" font-family="'Liberation Sans', Arial, sans-serif" font-weight="normal" stroke="#2a2a2a" stroke-width="0.06">−2</text><line x1="46.95" y1="372.3" x2="46.95" y2="374.5" stroke="#b0b0b0" stroke-width="0.7"/><line x1="59.3" y1="372.3" x2="59.3" y2="374.5" stroke="#b0b0b0" stroke-width="0.7"/><line x1="71.65" y1="372.3" x2="71.65" y2="374.5" stroke="#b0b0b0" stroke-width="0.7"/><line x1="84" y1="372.3" x2="84" y2="375.9" stroke="#b0b0b0" stroke-width="0.7"/><text x="84" y="382.3" font-size="6.2" text-anchor="middle" fill="#2a2a2a" font-family="'Liberation Sans', Arial, sans-serif" font-weight="normal" stroke="#2a2a2a" stroke-width="0.06">0</text><line x1="96.35" y1="372.3" x2="96.35" y2="374.5" stroke="#b0b0b0" stroke-width="0.7"/><line x1="108.7" y1="372.3" x2="108.7" y2="374.5" stroke="#b0b0b0" stroke-width="0.7"/><line x1="121.05" y1="372.3" x2="121.05" y2="374.5" stroke="#b0b0b0" stroke-width="0.7"/><line x1="133.4" y1="372.3" x2="133.4" y2="375.9" stroke="#b0b0b0" stroke-width="0.7"/><text x="133.4" y="382.3" font-size="6.2" text-anchor="middle" fill="#2a2a2a" font-family="'Liberation Sans', Arial, sans-serif" font-weight="normal" stroke="#2a2a2a" stroke-width="0.06">2</text><line x1="145.75" y1="372.3" x2="145.75" y2="374.5" stroke="#b0b0b0" stroke-width="0.7"/><line x1="158.1" y1="372.3" x2="158.1" y2="374.5" stroke="#b0b0b0" stroke-width="0.7"/><rect x="23.4" y="383.8" width="135.1" height="73.2" fill="none" stroke="#b0b0b0" stroke-width="0.8"/><line x1="23.35" y1="457" x2="23.35" y2="459.2" stroke="#b0b0b0" stroke-width="0.7"/><line x1="31.8" y1="457" x2="31.8" y2="460.6" stroke="#b0b0b0" stroke-width="0.7"/><text x="31.8" y="467" font-size="6.2" text-anchor="middle" fill="#2a2a2a" font-family="'Liberation Sans', Arial, sans-serif" font-weight="normal" stroke="#2a2a2a" stroke-width="0.06">−4</text><line x1="40.25" y1="457" x2="40.25" y2="459.2" stroke="#b0b0b0" stroke-width="0.7"/><line x1="48.7" y1="457" x2="48.7" y2="459.2" stroke="#b0b0b0" stroke-width="0.7"/><line x1="57.15" y1="457" x2="57.15" y2="459.2" stroke="#b0b0b0" stroke-width="0.7"/><line x1="65.6" y1="457" x2="65.6" y2="460.6" stroke="#b0b0b0" stroke-width="0.7"/><text x="65.6" y="467" font-size="6.2" text-anchor="middle" fill="#2a2a2a" font-family="'Liberation Sans', Arial, sans-serif" font-weight="normal" stroke="#2a2a2a" stroke-width="0.06">−2</text><line x1="74.05" y1="457" x2="74.05" y2="459.2" stroke="#b0b0b0" stroke-width="0.7"/><line x1="82.5" y1="457" x2="82.5" y2="459.2" stroke="#b0b0b0" stroke-width="0.7"/><line x1="90.95" y1="457" x2="90.95" y2="459.2" stroke="#b0b0b0" stroke-width="0.7"/><line x1="99.4" y1="457" x2="99.4" y2="460.6" stroke="#b0b0b0" stroke-width="0.7"/><text x="99.4" y="467" font-size="6.2" text-anchor="middle" fill="#2a2a2a" font-family="'Liberation Sans', Arial, sans-serif" font-weight="normal" stroke="#2a2a2a" stroke-width="0.06">0</text><line x1="107.85" y1="457" x2="107.85" y2="459.2" stroke="#b0b0b0" stroke-width="0.7"/><line x1="116.3" y1="457" x2="116.3" y2="459.2" stroke="#b0b0b0" stroke-width="0.7"/><line x1="124.75" y1="457" x2="124.75" y2="459.2" stroke="#b0b0b0" stroke-width="0.7"/><line x1="133.2" y1="457" x2="133.2" y2="460.6" stroke="#b0b0b0" stroke-width="0.7"/><text x="133.2" y="467" font-size="6.2" text-anchor="middle" fill="#2a2a2a" font-family="'Liberation Sans', Arial, sans-serif" font-weight="normal" stroke="#2a2a2a" stroke-width="0.06">2</text><line x1="141.65" y1="457" x2="141.65" y2="459.2" stroke="#b0b0b0" stroke-width="0.7"/><line x1="150.1" y1="457" x2="150.1" y2="459.2" stroke="#b0b0b0" stroke-width="0.7"/><line x1="158.55" y1="457" x2="158.55" y2="459.2" stroke="#b0b0b0" stroke-width="0.7"/><text x="91" y="475.8" font-size="5.5" text-anchor="middle" fill="#2a2a2a" font-family="'Liberation Sans', Arial, sans-serif" font-weight="normal" stroke="#2a2a2a" stroke-width="0.06">Energy (eV)</text><text x="17.6" y="337" font-size="5.4" text-anchor="middle" fill="#2a2a2a" font-family="'Liberation Sans', Arial, sans-serif" font-weight="normal" transform="rotate(-90 17.6 337)" stroke="#2a2a2a" stroke-width="0.06">O2<tspan font-style="italic">p</tspan> PDOS</text><text x="17.6" y="420" font-size="5.4" text-anchor="middle" fill="#2a2a2a" font-family="'Liberation Sans', Arial, sans-serif" font-weight="normal" transform="rotate(-90 17.6 420)" stroke="#2a2a2a" stroke-width="0.06">O2<tspan font-style="italic">p</tspan> PDOS</text><path d="M23.4,372.3 L23.4,361.1 L23.6,360.73 L23.79,360.36 L23.99,359.99 L24.18,359.62 L24.38,359.25 L24.57,358.88 L24.77,358.51 L24.96,358.14 L25.15,357.77 L25.34,357.4 L25.53,357.03 L25.72,356.65 L25.91,356.28 L26.1,355.91 L26.29,355.54 L26.48,355.16 L26.67,354.79 L26.85,354.42 L27.04,354.04 L27.22,353.67 L27.41,353.29 L27.59,352.92 L27.78,352.54 L27.96,352.17 L28.14,351.79 L28.32,351.42 L28.5,351.04 L28.68,350.66 L28.86,350.29 L29.04,349.91 L29.22,349.53 L29.4,349.15 L29.58,348.78 L29.75,348.4 L29.93,348.02 L30.11,347.64 L30.28,347.26 L30.46,346.88 L30.63,346.5 L30.81,346.12 L30.98,345.74 L31.15,345.36 L31.33,344.98 L31.5,344.6 L31.67,344.22 L31.84,343.84 L32.01,343.45 L32.18,343.07 L32.35,342.69 L32.51,342.31 L32.68,341.92 L32.85,341.54 L33.01,341.16 L33.18,340.77 L33.34,340.39 L33.51,340 L33.67,339.62 L33.83,339.23 L33.99,338.85 L34.15,338.46 L34.31,338.08 L34.47,337.69 L34.62,337.31 L34.78,336.92 L34.94,336.53 L35.09,336.14 L35.25,335.76 L35.4,335.37 L35.55,334.98 L35.71,334.59 L35.86,334.2 L36.01,333.81 L36.16,333.42 L36.31,333.03 L36.46,332.64 L36.61,332.25 L36.76,331.86 L36.91,331.47 L37.06,331.08 L37.2,330.69 L37.35,330.3 L37.5,329.91 L37.64,329.52 L37.79,329.12 L37.94,328.73 L38.08,328.34 L38.23,327.95 L38.37,327.56 L38.51,327.16 L38.66,326.77 L38.8,326.38 L38.94,325.99 L39.09,325.59 L39.23,325.2 L39.37,324.81 L39.51,324.41 L39.66,324.02 L39.8,323.63 L39.94,323.24 L40.08,322.84 L40.22,322.45 L40.36,322.06 L40.51,321.66 L40.65,321.27 L40.78,320.87 L40.92,320.47 L41.04,320.07 L41.17,319.67 L41.29,319.26 L41.42,318.86 L41.54,318.45 L41.66,318.04 L41.78,317.64 L41.9,317.23 L42.02,316.83 L42.15,316.43 L42.28,316.03 L42.41,315.63 L42.55,315.24 L42.69,314.85 L42.84,314.46 L43,314.08 L43.16,313.71 L43.33,313.34 L43.51,312.98 L43.7,312.59 L43.91,312.16 L44.12,311.71 L44.36,311.27 L44.6,310.86 L44.87,310.49 L45.14,310.2 L45.44,309.99 L45.74,309.9 L46.09,309.91 L46.49,309.95 L46.93,310 L47.37,310.07 L47.8,310.16 L48.2,310.25 L48.58,310.4 L48.96,310.6 L49.33,310.83 L49.68,311.07 L50.01,311.31 L50.33,311.56 L50.63,311.85 L50.91,312.15 L51.19,312.47 L51.46,312.8 L51.73,313.13 L52,313.46 L52.27,313.78 L52.56,314.09 L52.86,314.38 L53.17,314.65 L53.5,314.94 L53.83,315.23 L54.17,315.51 L54.53,315.75 L54.89,315.92 L55.26,316.01 L55.66,316.06 L56.06,316.1 L56.48,316.14 L56.91,316.17 L57.34,316.19 L57.77,316.2 L58.19,316.2 L58.62,316.2 L59.06,316.2 L59.48,316.2 L59.88,316.2 L60.23,316.22 L60.59,316.31 L60.94,316.48 L61.28,316.7 L61.62,316.98 L61.94,317.3 L62.26,317.65 L62.55,318.02 L62.84,318.41 L63.1,318.81 L63.35,319.2 L63.57,319.58 L63.76,319.93 L63.94,320.27 L64.11,320.61 L64.27,320.96 L64.43,321.32 L64.58,321.68 L64.73,322.05 L64.87,322.43 L65.01,322.81 L65.14,323.2 L65.27,323.59 L65.39,323.98 L65.52,324.39 L65.63,324.79 L65.75,325.2 L65.86,325.61 L65.96,326.02 L66.07,326.44 L66.17,326.86 L66.27,327.28 L66.37,327.7 L66.47,328.12 L66.57,328.55 L66.66,328.97 L66.76,329.4 L66.85,329.82 L66.94,330.24 L67.04,330.67 L67.13,331.09 L67.23,331.51 L67.32,331.92 L67.42,332.34 L67.52,332.75 L67.62,333.16 L67.72,333.56 L67.82,333.97 L67.91,334.38 L68.01,334.78 L68.1,335.19 L68.2,335.6 L68.29,336.01 L68.37,336.42 L68.46,336.83 L68.55,337.24 L68.63,337.65 L68.71,338.06 L68.8,338.47 L68.88,338.88 L68.96,339.29 L69.04,339.7 L69.12,340.12 L69.2,340.53 L69.28,340.94 L69.36,341.35 L69.44,341.77 L69.52,342.18 L69.6,342.59 L69.68,343 L69.76,343.41 L69.84,343.82 L69.92,344.23 L70.01,344.64 L70.09,345.05 L70.18,345.46 L70.26,345.87 L70.35,346.28 L70.44,346.68 L70.54,347.09 L70.63,347.5 L70.73,347.9 L70.83,348.3 L70.93,348.71 L71.03,349.11 L71.14,349.51 L71.25,349.91 L71.36,350.31 L71.47,350.71 L71.59,351.1 L71.71,351.5 L71.83,351.9 L71.96,352.31 L72.08,352.71 L72.21,353.12 L72.34,353.52 L72.48,353.93 L72.62,354.33 L72.76,354.74 L72.91,355.14 L73.06,355.54 L73.21,355.94 L73.37,356.34 L73.53,356.73 L73.69,357.12 L73.86,357.5 L74.04,357.88 L74.21,358.26 L74.4,358.63 L74.59,359 L74.78,359.35 L74.98,359.7 L75.18,360.05 L75.39,360.39 L75.61,360.73 L75.85,361.08 L76.11,361.44 L76.38,361.79 L76.66,362.14 L76.96,362.47 L77.27,362.78 L77.59,363.06 L77.92,363.3 L78.26,363.49 L78.6,363.64 L78.97,363.77 L79.37,363.9 L79.79,364.01 L80.22,364.1 L80.65,364.17 L81.07,364.2 L81.47,364.19 L81.88,364.16 L82.3,364.09 L82.71,364 L83.12,363.9 L83.53,363.78 L83.94,363.65 L83.94,372.3 Z" fill="url(#rf1)"/><path d="M84,372.3 L83.94,363.65 L84.34,363.52 L84.74,363.39 L85.13,363.26 L85.51,363.09 L85.88,362.9 L86.24,362.68 L86.61,362.46 L86.98,362.24 L87.35,362.05 L87.73,361.89 L88.12,361.77 L88.52,361.66 L88.92,361.56 L89.34,361.47 L89.75,361.39 L90.17,361.34 L90.59,361.3 L91,361.3 L91.42,361.32 L91.84,361.35 L92.26,361.4 L92.68,361.46 L93.09,361.53 L93.49,361.6 L93.89,361.7 L94.28,361.85 L94.66,362.04 L95.03,362.25 L95.4,362.47 L95.74,362.69 L96.08,362.93 L96.4,363.19 L96.71,363.47 L97.02,363.76 L97.33,364.05 L97.63,364.35 L97.93,364.64 L98.24,364.93 L98.53,365.22 L98.83,365.52 L99.12,365.82 L99.41,366.12 L99.7,366.42 L100,366.71 L100.3,367 L100.6,367.29 L100.91,367.58 L101.21,367.86 L101.52,368.15 L101.83,368.43 L102.14,368.71 L102.46,368.99 L102.78,369.25 L103.11,369.51 L103.44,369.76 L103.78,370 L104.12,370.25 L104.47,370.5 L104.83,370.74 L105.19,370.97 L105.56,371.16 L105.94,371.32 L106.32,371.43 L106.71,371.53 L107.11,371.63 L107.52,371.71 L107.94,371.79 L108.36,371.86 L108.78,371.92 L109.2,371.97 L109.62,371.99 L110.04,372 L110.45,372 L110.87,372 L111.28,372 L111.7,372 L112,372.3 Z" fill="url(#gf1)"/><polyline points="23.4,361.1 23.6,360.73 23.79,360.36 23.99,359.99 24.18,359.62 24.38,359.25 24.57,358.88 24.77,358.51 24.96,358.14 25.15,357.77 25.34,357.4 25.53,357.03 25.72,356.65 25.91,356.28 26.1,355.91 26.29,355.54 26.48,355.16 26.67,354.79 26.85,354.42 27.04,354.04 27.22,353.67 27.41,353.29 27.59,352.92 27.78,352.54 27.96,352.17 28.14,351.79 28.32,351.42 28.5,351.04 28.68,350.66 28.86,350.29 29.04,349.91 29.22,349.53 29.4,349.15 29.58,348.78 29.75,348.4 29.93,348.02 30.11,347.64 30.28,347.26 30.46,346.88 30.63,346.5 30.81,346.12 30.98,345.74 31.15,345.36 31.33,344.98 31.5,344.6 31.67,344.22 31.84,343.84 32.01,343.45 32.18,343.07 32.35,342.69 32.51,342.31 32.68,341.92 32.85,341.54 33.01,341.16 33.18,340.77 33.34,340.39 33.51,340 33.67,339.62 33.83,339.23 33.99,338.85 34.15,338.46 34.31,338.08 34.47,337.69 34.62,337.31 34.78,336.92 34.94,336.53 35.09,336.14 35.25,335.76 35.4,335.37 35.55,334.98 35.71,334.59 35.86,334.2 36.01,333.81 36.16,333.42 36.31,333.03 36.46,332.64 36.61,332.25 36.76,331.86 36.91,331.47 37.06,331.08 37.2,330.69 37.35,330.3 37.5,329.91 37.64,329.52 37.79,329.12 37.94,328.73 38.08,328.34 38.23,327.95 38.37,327.56 38.51,327.16 38.66,326.77 38.8,326.38 38.94,325.99 39.09,325.59 39.23,325.2 39.37,324.81 39.51,324.41 39.66,324.02 39.8,323.63 39.94,323.24 40.08,322.84 40.22,322.45 40.36,322.06 40.51,321.66 40.65,321.27 40.78,320.87 40.92,320.47 41.04,320.07 41.17,319.67 41.29,319.26 41.42,318.86 41.54,318.45 41.66,318.04 41.78,317.64 41.9,317.23 42.02,316.83 42.15,316.43 42.28,316.03 42.41,315.63 42.55,315.24 42.69,314.85 42.84,314.46 43,314.08 43.16,313.71 43.33,313.34 43.51,312.98 43.7,312.59 43.91,312.16 44.12,311.71 44.36,311.27 44.6,310.86 44.87,310.49 45.14,310.2 45.44,309.99 45.74,309.9 46.09,309.91 46.49,309.95 46.93,310 47.37,310.07 47.8,310.16 48.2,310.25 48.58,310.4 48.96,310.6 49.33,310.83 49.68,311.07 50.01,311.31 50.33,311.56 50.63,311.85 50.91,312.15 51.19,312.47 51.46,312.8 51.73,313.13 52,313.46 52.27,313.78 52.56,314.09 52.86,314.38 53.17,314.65 53.5,314.94 53.83,315.23 54.17,315.51 54.53,315.75 54.89,315.92 55.26,316.01 55.66,316.06 56.06,316.1 56.48,316.14 56.91,316.17 57.34,316.19 57.77,316.2 58.19,316.2 58.62,316.2 59.06,316.2 59.48,316.2 59.88,316.2 60.23,316.22 60.59,316.31 60.94,316.48 61.28,316.7 61.62,316.98 61.94,317.3 62.26,317.65 62.55,318.02 62.84,318.41 63.1,318.81 63.35,319.2 63.57,319.58 63.76,319.93 63.94,320.27 64.11,320.61 64.27,320.96 64.43,321.32 64.58,321.68 64.73,322.05 64.87,322.43 65.01,322.81 65.14,323.2 65.27,323.59 65.39,323.98 65.52,324.39 65.63,324.79 65.75,325.2 65.86,325.61 65.96,326.02 66.07,326.44 66.17,326.86 66.27,327.28 66.37,327.7 66.47,328.12 66.57,328.55 66.66,328.97 66.76,329.4 66.85,329.82 66.94,330.24 67.04,330.67 67.13,331.09 67.23,331.51 67.32,331.92 67.42,332.34 67.52,332.75 67.62,333.16 67.72,333.56 67.82,333.97 67.91,334.38 68.01,334.78 68.1,335.19 68.2,335.6 68.29,336.01 68.37,336.42 68.46,336.83 68.55,337.24 68.63,337.65 68.71,338.06 68.8,338.47 68.88,338.88 68.96,339.29 69.04,339.7 69.12,340.12 69.2,340.53 69.28,340.94 69.36,341.35 69.44,341.77 69.52,342.18 69.6,342.59 69.68,343 69.76,343.41 69.84,343.82 69.92,344.23 70.01,344.64 70.09,345.05 70.18,345.46 70.26,345.87 70.35,346.28 70.44,346.68 70.54,347.09 70.63,347.5 70.73,347.9 70.83,348.3 70.93,348.71 71.03,349.11 71.14,349.51 71.25,349.91 71.36,350.31 71.47,350.71 71.59,351.1 71.71,351.5 71.83,351.9 71.96,352.31 72.08,352.71 72.21,353.12 72.34,353.52 72.48,353.93 72.62,354.33 72.76,354.74 72.91,355.14 73.06,355.54 73.21,355.94 73.37,356.34 73.53,356.73 73.69,357.12 73.86,357.5 74.04,357.88 74.21,358.26 74.4,358.63 74.59,359 74.78,359.35 74.98,359.7 75.18,360.05 75.39,360.39 75.61,360.73 75.85,361.08 76.11,361.44 76.38,361.79 76.66,362.14 76.96,362.47 77.27,362.78 77.59,363.06 77.92,363.3 78.26,363.49 78.6,363.64 78.97,363.77 79.37,363.9 79.79,364.01 80.22,364.1 80.65,364.17 81.07,364.2 81.47,364.19 81.88,364.16 82.3,364.09 82.71,364 83.12,363.9 83.53,363.78 83.94,363.65" fill="none" stroke="#c43030" stroke-width="1" stroke-linejoin="round" stroke-linecap="round"/><polyline points="83.94,363.65 84.34,363.52 84.74,363.39 85.13,363.26 85.51,363.09 85.88,362.9 86.24,362.68 86.61,362.46 86.98,362.24 87.35,362.05 87.73,361.89 88.12,361.77 88.52,361.66 88.92,361.56 89.34,361.47 89.75,361.39 90.17,361.34 90.59,361.3 91,361.3 91.42,361.32 91.84,361.35 92.26,361.4 92.68,361.46 93.09,361.53 93.49,361.6 93.89,361.7 94.28,361.85 94.66,362.04 95.03,362.25 95.4,362.47 95.74,362.69 96.08,362.93 96.4,363.19 96.71,363.47 97.02,363.76 97.33,364.05 97.63,364.35 97.93,364.64 98.24,364.93 98.53,365.22 98.83,365.52 99.12,365.82 99.41,366.12 99.7,366.42 100,366.71 100.3,367 100.6,367.29 100.91,367.58 101.21,367.86 101.52,368.15 101.83,368.43 102.14,368.71 102.46,368.99 102.78,369.25 103.11,369.51 103.44,369.76 103.78,370 104.12,370.25 104.47,370.5 104.83,370.74 105.19,370.97 105.56,371.16 105.94,371.32 106.32,371.43 106.71,371.53 107.11,371.63 107.52,371.71 107.94,371.79 108.36,371.86 108.78,371.92 109.2,371.97 109.62,371.99 110.04,372 110.45,372 110.87,372 111.28,372 111.7,372 112.12,372 112.53,372 112.95,371.99 113.36,371.99 113.78,371.99 114.2,371.99 114.61,371.99 115.03,371.98 115.45,371.98 115.87,371.98 116.28,371.98 116.7,371.97 117.12,371.97 117.54,371.97 117.96,371.96 118.37,371.96 118.79,371.96 119.21,371.96 119.63,371.95 120.05,371.95 120.47,371.95 120.88,371.94 121.3,371.94 121.72,371.94 122.14,371.93 122.56,371.93 122.98,371.93 123.4,371.93 123.82,371.92 124.23,371.92 124.65,371.92 125.07,371.92 125.49,371.91 125.91,371.91 126.33,371.91 126.75,371.91 127.17,371.91 127.58,371.9 128,371.9 128.42,371.9 128.84,371.9 129.26,371.9 129.67,371.9 130.09,371.9 130.51,371.9 130.93,371.9 131.35,371.9 131.76,371.9 132.18,371.9 132.6,371.9 133.02,371.9 133.43,371.9 133.85,371.9 134.27,371.9 134.69,371.9 135.11,371.9 135.52,371.9 135.94,371.9 136.36,371.9 136.78,371.9 137.19,371.9 137.61,371.9 138.03,371.9 138.45,371.9 138.87,371.9 139.28,371.9 139.7,371.9 140.12,371.9 140.54,371.9 140.95,371.9 141.37,371.9 141.79,371.9 142.21,371.9 142.63,371.9 143.04,371.9 143.46,371.9 143.88,371.9 144.3,371.9 144.71,371.9 145.13,371.9 145.55,371.9 145.97,371.9 146.38,371.9 146.8,371.9 147.22,371.9 147.64,371.9 148.06,371.9 148.47,371.9 148.89,371.9 149.31,371.9 149.73,371.9 150.14,371.9 150.56,371.9 150.98,371.9 151.4,371.9 151.82,371.9 152.23,371.9 152.65,371.9 153.07,371.9 153.49,371.9 153.9,371.9 154.32,371.9 154.74,371.9 155.16,371.9 155.58,371.9 155.99,371.9 156.41,371.9 156.83,371.9 157.25,371.9 157.66,371.9 158.08,371.9 158.5,371.9" fill="none" stroke="#111" stroke-width="1" stroke-linejoin="round" stroke-linecap="round"/><line x1="84" y1="347" x2="84" y2="372" stroke="#ccc" stroke-width="0.5"/><path d="M23.4,457 L23.4,416.5 L23.64,416.3 L23.88,416.09 L24.13,415.9 L24.38,415.71 L24.63,415.54 L24.89,415.39 L25.15,415.25 L25.41,415.14 L25.68,415.06 L25.95,415.01 L26.22,414.98 L26.51,414.95 L26.8,414.93 L27.1,414.91 L27.4,414.89 L27.7,414.87 L28,414.85 L28.31,414.84 L28.61,414.83 L28.91,414.82 L29.21,414.81 L29.5,414.8 L29.78,414.8 L30.06,414.8 L30.34,414.83 L30.62,414.9 L30.9,415 L31.18,415.13 L31.46,415.28 L31.73,415.45 L31.99,415.64 L32.24,415.83 L32.48,416.03 L32.7,416.22 L32.91,416.41 L33.1,416.6 L33.28,416.79 L33.46,416.99 L33.63,417.2 L33.8,417.43 L33.96,417.66 L34.12,417.9 L34.27,418.14 L34.42,418.4 L34.57,418.66 L34.71,418.93 L34.85,419.2 L34.98,419.47 L35.12,419.75 L35.25,420.03 L35.37,420.32 L35.5,420.6 L35.62,420.89 L35.74,421.17 L35.86,421.46 L35.98,421.74 L36.1,422.03 L36.21,422.31 L36.33,422.58 L36.44,422.86 L36.55,423.13 L36.66,423.4 L36.77,423.67 L36.87,423.94 L36.97,424.22 L37.07,424.49 L37.17,424.77 L37.26,425.05 L37.35,425.33 L37.44,425.61 L37.53,425.89 L37.62,426.18 L37.71,426.46 L37.79,426.74 L37.88,427.03 L37.96,427.31 L38.05,427.59 L38.13,427.88 L38.22,428.16 L38.3,428.45 L38.39,428.73 L38.47,429.01 L38.56,429.3 L38.65,429.58 L38.74,429.86 L38.83,430.14 L38.92,430.42 L39.02,430.7 L39.11,430.98 L39.21,431.25 L39.32,431.53 L39.42,431.8 L39.53,432.08 L39.64,432.36 L39.74,432.66 L39.85,432.97 L39.95,433.29 L40.06,433.61 L40.17,433.94 L40.27,434.27 L40.38,434.6 L40.49,434.93 L40.61,435.25 L40.73,435.57 L40.85,435.87 L40.97,436.16 L41.1,436.44 L41.24,436.7 L41.38,436.94 L41.53,437.16 L41.68,437.35 L41.84,437.51 L42.01,437.65 L42.19,437.75 L42.38,437.83 L42.62,437.89 L42.9,437.96 L43.21,438.02 L43.54,438.07 L43.88,438.11 L44.2,438.15 L44.52,438.18 L44.8,438.2 L45.04,438.2 L45.25,438.17 L45.46,438.08 L45.66,437.96 L45.85,437.79 L46.04,437.59 L46.22,437.36 L46.4,437.1 L46.57,436.83 L46.73,436.53 L46.9,436.22 L47.05,435.91 L47.21,435.59 L47.36,435.27 L47.51,434.96 L47.66,434.65 L47.8,434.36 L47.95,434.09 L48.09,433.84 L48.23,433.58 L48.36,433.32 L48.49,433.05 L48.61,432.78 L48.73,432.5 L48.85,432.23 L48.96,431.95 L49.07,431.67 L49.19,431.39 L49.29,431.11 L49.4,430.83 L49.51,430.55 L49.62,430.27 L49.74,429.99 L49.85,429.71 L49.97,429.44 L50.08,429.17 L50.21,428.9 L50.34,428.64 L50.47,428.39 L50.61,428.14 L50.75,427.89 L50.9,427.65 L51.06,427.42 L51.22,427.17 L51.4,426.92 L51.59,426.65 L51.79,426.38 L51.99,426.1 L52.2,425.83 L52.42,425.56 L52.64,425.3 L52.86,425.06 L53.09,424.83 L53.32,424.62 L53.54,424.43 L53.77,424.28 L54,424.15 L54.23,424.06 L54.45,424.01 L54.67,424 L54.89,424.05 L55.12,424.14 L55.35,424.27 L55.59,424.44 L55.82,424.63 L56.06,424.86 L56.29,425.1 L56.52,425.35 L56.74,425.6 L56.96,425.86 L57.17,426.11 L57.37,426.35 L57.56,426.57 L57.74,426.79 L57.92,427.02 L58.08,427.26 L58.25,427.5 L58.41,427.75 L58.57,428 L58.72,428.25 L58.87,428.51 L59.02,428.76 L59.17,429.02 L59.32,429.28 L59.47,429.54 L59.62,429.8 L59.78,430.05 L59.94,430.3 L60.1,430.55 L60.26,430.8 L60.42,431.04 L60.57,431.29 L60.73,431.54 L60.89,431.79 L61.05,432.04 L61.21,432.29 L61.37,432.53 L61.53,432.78 L61.69,433.03 L61.84,433.28 L62,433.53 L62.16,433.78 L62.32,434.03 L62.48,434.27 L62.64,434.52 L62.8,434.77 L62.97,435.01 L63.13,435.26 L63.29,435.51 L63.45,435.75 L63.62,436 L63.78,436.24 L63.95,436.48 L64.11,436.73 L64.28,436.97 L64.45,437.21 L64.62,437.45 L64.79,437.69 L64.96,437.93 L65.13,438.2 L65.29,438.47 L65.46,438.75 L65.62,439.03 L65.78,439.31 L65.95,439.59 L66.12,439.86 L66.29,440.12 L66.47,440.36 L66.66,440.58 L66.85,440.78 L67.06,440.95 L67.27,441.09 L67.49,441.2 L67.73,441.28 L68.01,441.36 L68.3,441.43 L68.61,441.49 L68.92,441.55 L69.23,441.58 L69.52,441.6 L69.79,441.59 L70.05,441.52 L70.32,441.41 L70.57,441.27 L70.83,441.09 L71.08,440.9 L71.33,440.71 L71.57,440.51 L71.82,440.32 L72.07,440.16 L72.31,439.99 L72.55,439.82 L72.79,439.65 L73.02,439.47 L73.26,439.3 L73.49,439.12 L73.73,438.93 L73.96,438.75 L74.19,438.57 L74.42,438.38 L74.65,438.19 L74.87,437.98 L75.08,437.76 L75.3,437.53 L75.51,437.3 L75.73,437.08 L75.95,436.87 L76.17,436.68 L76.4,436.5 L76.64,436.36 L76.88,436.24 L77.14,436.16 L77.41,436.08 L77.7,436.01 L78,435.94 L78.3,435.88 L78.6,435.84 L78.9,435.81 L79.18,435.8 L79.46,435.82 L79.74,435.88 L80.02,435.98 L80.3,436.1 L80.57,436.25 L80.84,436.4 L81.1,436.56 L81.36,436.72 L81.61,436.86 L81.85,437.02 L82.09,437.18 L82.33,437.36 L82.57,437.54 L82.8,437.73 L83.02,437.93 L83.25,438.14 L83.46,438.34 L83.67,438.55 L83.87,438.76 L84.07,438.97 L84.26,439.19 L84.44,439.42 L84.61,439.65 L84.78,439.89 L84.95,440.14 L85.11,440.38 L85.27,440.63 L85.43,440.88 L85.59,441.14 L85.75,441.39 L85.91,441.64 L86.07,441.89 L86.24,442.13 L86.41,442.38 L86.58,442.61 L86.76,442.86 L86.93,443.1 L87.1,443.35 L87.27,443.6 L87.45,443.85 L87.62,444.1 L87.8,444.34 L87.99,444.57 L88.18,444.8 L88.37,445.01 L88.57,445.2 L88.78,445.39 L89,445.56 L89.23,445.72 L89.47,445.88 L89.72,446.03 L89.97,446.18 L90.23,446.33 L90.5,446.47 L90.77,446.6 L91.05,446.73 L91.32,446.86 L91.6,446.98 L91.88,447.09 L92.16,447.2 L92.44,447.31 L92.71,447.4 L92.99,447.49 L93.27,447.58 L93.56,447.65 L93.85,447.72 L94.14,447.79 L94.43,447.85 L94.72,447.91 L95.01,447.98 L95.3,448.04 L95.59,448.12 L95.87,448.19 L96.15,448.28 L96.42,448.37 L96.69,448.48 L96.96,448.59 L97.22,448.72 L97.49,448.86 L97.75,449.01 L98.01,449.17 L98.26,449.33 L98.51,449.5 L98.75,449.68 L98.99,449.86 L99.21,450.04 L99.43,450.22 L99.63,450.42 L99.82,450.63 L99.82,457 Z" fill="url(#rf2)"/><path d="M99.4,457 L99.63,450.42 L99.82,450.63 L100.01,450.86 L100.19,451.09 L100.36,451.34 L100.53,451.59 L100.69,451.85 L100.85,452.11 L101.02,452.37 L101.18,452.63 L101.35,452.88 L101.52,453.12 L101.7,453.36 L101.88,453.58 L102.08,453.79 L102.28,453.98 L102.49,454.17 L102.72,454.35 L102.95,454.53 L103.18,454.71 L103.43,454.89 L103.68,455.07 L103.93,455.24 L104.19,455.4 L104.45,455.56 L104.72,455.71 L104.99,455.84 L105.26,455.97 L105.53,456.08 L105.8,456.18 L106.08,456.27 L106.35,456.34 L106.63,456.41 L106.91,456.47 L107.19,456.54 L107.48,456.6 L107.78,456.66 L108.07,456.71 L108.37,456.76 L108.66,456.81 L108.96,456.84 L109.26,456.87 L109.55,456.89 L109.85,456.9 L110.14,456.9 L110.43,456.9 L110.73,456.9 L111.02,456.9 L111.31,456.9 L111.61,456.9 L111.9,456.9 L112.19,456.89 L112.49,456.89 L112.78,456.89 L113.08,456.89 L113.37,456.89 L113.66,456.88 L113.96,456.88 L114.25,456.88 L114.55,456.88 L114.84,456.87 L115.14,456.87 L115.43,456.87 L115.73,456.86 L116.02,456.86 L116.32,456.86 L116.61,456.85 L116.91,456.85 L117.2,456.85 L117.5,456.84 L117.79,456.84 L118.09,456.83 L118.38,456.83 L118.68,456.82 L118.97,456.82 L119.27,456.81 L119.56,456.81 L119.86,456.8 L120.16,456.8 L120.45,456.79 L120.75,456.79 L121.04,456.78 L121.34,456.78 L121.63,456.77 L121.93,456.76 L122.22,456.76 L122.52,456.75 L122.81,456.75 L123.11,456.74 L123.4,456.73 L123.7,456.73 L123.99,456.72 L124.29,456.72 L124.58,456.71 L124.88,456.7 L125.17,456.7 L125.47,456.69 L125.76,456.68 L126.05,456.67 L126.35,456.66 L126.64,456.65 L126.94,456.64 L127.23,456.63 L127.53,456.62 L127.82,456.61 L128.12,456.59 L128.41,456.58 L128.7,456.56 L129,456.55 L129.29,456.53 L129.59,456.52 L129.88,456.5 L130.18,456.48 L130.47,456.47 L130.76,456.45 L131.06,456.43 L131.35,456.41 L131.65,456.39 L131.94,456.37 L132.24,456.35 L132.53,456.33 L132.82,456.31 L133.12,456.29 L133.41,456.27 L133.71,456.25 L134,456.23 L134.29,456.2 L134.59,456.18 L134.88,456.16 L135.18,456.14 L135.47,456.11 L135.76,456.09 L136.06,456.07 L136.35,456.04 L136.64,456.02 L136.94,456 L137.23,455.97 L137.52,455.95 L137.82,455.92 L138.11,455.89 L138.4,455.86 L138.7,455.83 L138.99,455.8 L139.28,455.77 L139.58,455.74 L139.87,455.7 L140.16,455.67 L140.46,455.63 L140.75,455.6 L141.04,455.56 L141.33,455.52 L141.63,455.49 L141.92,455.45 L142.21,455.41 L142.5,455.37 L142.79,455.33 L143.09,455.29 L143.38,455.25 L143.67,455.21 L143.96,455.16 L144.25,455.12 L144.54,455.08 L144.84,455.03 L145.13,454.99 L145.42,454.94 L145.71,454.9 L146,454.85 L146.3,454.8 L146.59,454.75 L146.88,454.7 L147.17,454.65 L147.46,454.6 L147.75,454.54 L148.04,454.49 L148.33,454.43 L148.62,454.38 L148.91,454.32 L149.19,454.26 L149.48,454.2 L149.77,454.14 L150.06,454.08 L150.34,454.01 L150.63,453.95 L150.91,453.88 L151.2,453.81 L151.48,453.74 L151.76,453.67 L152.05,453.59 L152.33,453.51 L152.61,453.43 L152.9,453.35 L153.18,453.27 L153.46,453.18 L153.74,453.1 L154.02,453.01 L154.31,452.92 L154.59,452.83 L154.87,452.73 L155.15,452.64 L155.43,452.54 L155.7,452.44 L155.98,452.34 L156.26,452.24 L156.54,452.14 L156.82,452.04 L157.09,451.93 L157.37,451.83 L157.65,451.72 L157.92,451.61 L158.2,451.5 L158.2,457 Z" fill="url(#gf2)" opacity="0.7"/><polyline points="23.4,416.5 23.64,416.3 23.88,416.09 24.13,415.9 24.38,415.71 24.63,415.54 24.89,415.39 25.15,415.25 25.41,415.14 25.68,415.06 25.95,415.01 26.22,414.98 26.51,414.95 26.8,414.93 27.1,414.91 27.4,414.89 27.7,414.87 28,414.85 28.31,414.84 28.61,414.83 28.91,414.82 29.21,414.81 29.5,414.8 29.78,414.8 30.06,414.8 30.34,414.83 30.62,414.9 30.9,415 31.18,415.13 31.46,415.28 31.73,415.45 31.99,415.64 32.24,415.83 32.48,416.03 32.7,416.22 32.91,416.41 33.1,416.6 33.28,416.79 33.46,416.99 33.63,417.2 33.8,417.43 33.96,417.66 34.12,417.9 34.27,418.14 34.42,418.4 34.57,418.66 34.71,418.93 34.85,419.2 34.98,419.47 35.12,419.75 35.25,420.03 35.37,420.32 35.5,420.6 35.62,420.89 35.74,421.17 35.86,421.46 35.98,421.74 36.1,422.03 36.21,422.31 36.33,422.58 36.44,422.86 36.55,423.13 36.66,423.4 36.77,423.67 36.87,423.94 36.97,424.22 37.07,424.49 37.17,424.77 37.26,425.05 37.35,425.33 37.44,425.61 37.53,425.89 37.62,426.18 37.71,426.46 37.79,426.74 37.88,427.03 37.96,427.31 38.05,427.59 38.13,427.88 38.22,428.16 38.3,428.45 38.39,428.73 38.47,429.01 38.56,429.3 38.65,429.58 38.74,429.86 38.83,430.14 38.92,430.42 39.02,430.7 39.11,430.98 39.21,431.25 39.32,431.53 39.42,431.8 39.53,432.08 39.64,432.36 39.74,432.66 39.85,432.97 39.95,433.29 40.06,433.61 40.17,433.94 40.27,434.27 40.38,434.6 40.49,434.93 40.61,435.25 40.73,435.57 40.85,435.87 40.97,436.16 41.1,436.44 41.24,436.7 41.38,436.94 41.53,437.16 41.68,437.35 41.84,437.51 42.01,437.65 42.19,437.75 42.38,437.83 42.62,437.89 42.9,437.96 43.21,438.02 43.54,438.07 43.88,438.11 44.2,438.15 44.52,438.18 44.8,438.2 45.04,438.2 45.25,438.17 45.46,438.08 45.66,437.96 45.85,437.79 46.04,437.59 46.22,437.36 46.4,437.1 46.57,436.83 46.73,436.53 46.9,436.22 47.05,435.91 47.21,435.59 47.36,435.27 47.51,434.96 47.66,434.65 47.8,434.36 47.95,434.09 48.09,433.84 48.23,433.58 48.36,433.32 48.49,433.05 48.61,432.78 48.73,432.5 48.85,432.23 48.96,431.95 49.07,431.67 49.19,431.39 49.29,431.11 49.4,430.83 49.51,430.55 49.62,430.27 49.74,429.99 49.85,429.71 49.97,429.44 50.08,429.17 50.21,428.9 50.34,428.64 50.47,428.39 50.61,428.14 50.75,427.89 50.9,427.65 51.06,427.42 51.22,427.17 51.4,426.92 51.59,426.65 51.79,426.38 51.99,426.1 52.2,425.83 52.42,425.56 52.64,425.3 52.86,425.06 53.09,424.83 53.32,424.62 53.54,424.43 53.77,424.28 54,424.15 54.23,424.06 54.45,424.01 54.67,424 54.89,424.05 55.12,424.14 55.35,424.27 55.59,424.44 55.82,424.63 56.06,424.86 56.29,425.1 56.52,425.35 56.74,425.6 56.96,425.86 57.17,426.11 57.37,426.35 57.56,426.57 57.74,426.79 57.92,427.02 58.08,427.26 58.25,427.5 58.41,427.75 58.57,428 58.72,428.25 58.87,428.51 59.02,428.76 59.17,429.02 59.32,429.28 59.47,429.54 59.62,429.8 59.78,430.05 59.94,430.3 60.1,430.55 60.26,430.8 60.42,431.04 60.57,431.29 60.73,431.54 60.89,431.79 61.05,432.04 61.21,432.29 61.37,432.53 61.53,432.78 61.69,433.03 61.84,433.28 62,433.53 62.16,433.78 62.32,434.03 62.48,434.27 62.64,434.52 62.8,434.77 62.97,435.01 63.13,435.26 63.29,435.51 63.45,435.75 63.62,436 63.78,436.24 63.95,436.48 64.11,436.73 64.28,436.97 64.45,437.21 64.62,437.45 64.79,437.69 64.96,437.93 65.13,438.2 65.29,438.47 65.46,438.75 65.62,439.03 65.78,439.31 65.95,439.59 66.12,439.86 66.29,440.12 66.47,440.36 66.66,440.58 66.85,440.78 67.06,440.95 67.27,441.09 67.49,441.2 67.73,441.28 68.01,441.36 68.3,441.43 68.61,441.49 68.92,441.55 69.23,441.58 69.52,441.6 69.79,441.59 70.05,441.52 70.32,441.41 70.57,441.27 70.83,441.09 71.08,440.9 71.33,440.71 71.57,440.51 71.82,440.32 72.07,440.16 72.31,439.99 72.55,439.82 72.79,439.65 73.02,439.47 73.26,439.3 73.49,439.12 73.73,438.93 73.96,438.75 74.19,438.57 74.42,438.38 74.65,438.19 74.87,437.98 75.08,437.76 75.3,437.53 75.51,437.3 75.73,437.08 75.95,436.87 76.17,436.68 76.4,436.5 76.64,436.36 76.88,436.24 77.14,436.16 77.41,436.08 77.7,436.01 78,435.94 78.3,435.88 78.6,435.84 78.9,435.81 79.18,435.8 79.46,435.82 79.74,435.88 80.02,435.98 80.3,436.1 80.57,436.25 80.84,436.4 81.1,436.56 81.36,436.72 81.61,436.86 81.85,437.02 82.09,437.18 82.33,437.36 82.57,437.54 82.8,437.73 83.02,437.93 83.25,438.14 83.46,438.34 83.67,438.55 83.87,438.76 84.07,438.97 84.26,439.19 84.44,439.42 84.61,439.65 84.78,439.89 84.95,440.14 85.11,440.38 85.27,440.63 85.43,440.88 85.59,441.14 85.75,441.39 85.91,441.64 86.07,441.89 86.24,442.13 86.41,442.38 86.58,442.61 86.76,442.86 86.93,443.1 87.1,443.35 87.27,443.6 87.45,443.85 87.62,444.1 87.8,444.34 87.99,444.57 88.18,444.8 88.37,445.01 88.57,445.2 88.78,445.39 89,445.56 89.23,445.72 89.47,445.88 89.72,446.03 89.97,446.18 90.23,446.33 90.5,446.47 90.77,446.6 91.05,446.73 91.32,446.86 91.6,446.98 91.88,447.09 92.16,447.2 92.44,447.31 92.71,447.4 92.99,447.49 93.27,447.58 93.56,447.65 93.85,447.72 94.14,447.79 94.43,447.85 94.72,447.91 95.01,447.98 95.3,448.04 95.59,448.12 95.87,448.19 96.15,448.28 96.42,448.37 96.69,448.48 96.96,448.59 97.22,448.72 97.49,448.86 97.75,449.01 98.01,449.17 98.26,449.33 98.51,449.5 98.75,449.68 98.99,449.86 99.21,450.04 99.43,450.22 99.63,450.42 99.82,450.63" fill="none" stroke="#c43030" stroke-width="1" stroke-linejoin="round" stroke-linecap="round"/><polyline points="99.63,450.42 99.82,450.63 100.01,450.86 100.19,451.09 100.36,451.34 100.53,451.59 100.69,451.85 100.85,452.11 101.02,452.37 101.18,452.63 101.35,452.88 101.52,453.12 101.7,453.36 101.88,453.58 102.08,453.79 102.28,453.98 102.49,454.17 102.72,454.35 102.95,454.53 103.18,454.71 103.43,454.89 103.68,455.07 103.93,455.24 104.19,455.4 104.45,455.56 104.72,455.71 104.99,455.84 105.26,455.97 105.53,456.08 105.8,456.18 106.08,456.27 106.35,456.34 106.63,456.41 106.91,456.47 107.19,456.54 107.48,456.6 107.78,456.66 108.07,456.71 108.37,456.76 108.66,456.81 108.96,456.84 109.26,456.87 109.55,456.89 109.85,456.9 110.14,456.9 110.43,456.9 110.73,456.9 111.02,456.9 111.31,456.9 111.61,456.9 111.9,456.9 112.19,456.89 112.49,456.89 112.78,456.89 113.08,456.89 113.37,456.89 113.66,456.88 113.96,456.88 114.25,456.88 114.55,456.88 114.84,456.87 115.14,456.87 115.43,456.87 115.73,456.86 116.02,456.86 116.32,456.86 116.61,456.85 116.91,456.85 117.2,456.85 117.5,456.84 117.79,456.84 118.09,456.83 118.38,456.83 118.68,456.82 118.97,456.82 119.27,456.81 119.56,456.81 119.86,456.8 120.16,456.8 120.45,456.79 120.75,456.79 121.04,456.78 121.34,456.78 121.63,456.77 121.93,456.76 122.22,456.76 122.52,456.75 122.81,456.75 123.11,456.74 123.4,456.73 123.7,456.73 123.99,456.72 124.29,456.72 124.58,456.71 124.88,456.7 125.17,456.7 125.47,456.69 125.76,456.68 126.05,456.67 126.35,456.66 126.64,456.65 126.94,456.64 127.23,456.63 127.53,456.62 127.82,456.61 128.12,456.59 128.41,456.58 128.7,456.56 129,456.55 129.29,456.53 129.59,456.52 129.88,456.5 130.18,456.48 130.47,456.47 130.76,456.45 131.06,456.43 131.35,456.41 131.65,456.39 131.94,456.37 132.24,456.35 132.53,456.33 132.82,456.31 133.12,456.29 133.41,456.27 133.71,456.25 134,456.23 134.29,456.2 134.59,456.18 134.88,456.16 135.18,456.14 135.47,456.11 135.76,456.09 136.06,456.07 136.35,456.04 136.64,456.02 136.94,456 137.23,455.97 137.52,455.95 137.82,455.92 138.11,455.89 138.4,455.86 138.7,455.83 138.99,455.8 139.28,455.77 139.58,455.74 139.87,455.7 140.16,455.67 140.46,455.63 140.75,455.6 141.04,455.56 141.33,455.52 141.63,455.49 141.92,455.45 142.21,455.41 142.5,455.37 142.79,455.33 143.09,455.29 143.38,455.25 143.67,455.21 143.96,455.16 144.25,455.12 144.54,455.08 144.84,455.03 145.13,454.99 145.42,454.94 145.71,454.9 146,454.85 146.3,454.8 146.59,454.75 146.88,454.7 147.17,454.65 147.46,454.6 147.75,454.54 148.04,454.49 148.33,454.43 148.62,454.38 148.91,454.32 149.19,454.26 149.48,454.2 149.77,454.14 150.06,454.08 150.34,454.01 150.63,453.95 150.91,453.88 151.2,453.81 151.48,453.74 151.76,453.67 152.05,453.59 152.33,453.51 152.61,453.43 152.9,453.35 153.18,453.27 153.46,453.18 153.74,453.1 154.02,453.01 154.31,452.92 154.59,452.83 154.87,452.73 155.15,452.64 155.43,452.54 155.7,452.44 155.98,452.34 156.26,452.24 156.54,452.14 156.82,452.04 157.09,451.93 157.37,451.83 157.65,451.72 157.92,451.61 158.2,451.5" fill="none" stroke="#111" stroke-width="1" stroke-linejoin="round" stroke-linecap="round"/><path d="M99.2,340.6 A19.2,17.3 0 0 1 137.6,340.6 Z" fill="url(#cres)" clip-path="url(#crc)"/><path d="M96.9,340.6 A19.2,16.4 0 0 1 135.3,340.6 Z" fill="#fafafa" clip-path="url(#crc)"/><path d="M96.6,340.6 A19.2,17 0 0 1 135,340.6 Z" fill="url(#sc)" opacity="0.85" clip-path="url(#scclip340)"/><rect x="114.3" y="334.6" width="5" height="6" fill="#c00010" opacity="0.45"/><line x1="89.8" y1="340.6" x2="156.2" y2="340.6" stroke="#888" stroke-width="0.6"/><path d="M106,340.6 L106,326.95 C106,316.58 107.35,313.3 109,313.3 C110.65,313.3 112,316.58 112,326.95 L112,340.6 Z" fill="url(#bl)" stroke="#9090c8" stroke-width="0.4" opacity="0.8"/><path d="M142.6,340.6 L142.6,326.95 C142.6,316.58 144.35,313.3 146.5,313.3 C148.65,313.3 150.4,316.58 150.4,326.95 L150.4,340.6" fill="#fff" stroke="#6a6ab8" stroke-width="0.7"/><line x1="127.3" y1="324" x2="127.3" y2="340.5" stroke="#e07080" stroke-width="0.5"/><text x="108.4" y="337.5" font-size="3.2" text-anchor="start" fill="#1a1a1a" font-family="'Liberation Sans', Arial, sans-serif" font-weight="normal" transform="rotate(-90 108.4 337.5)" stroke="#1a1a1a" stroke-width="0.06">LHB, Ni–O</text><text x="148" y="337.5" font-size="3.2" text-anchor="start" fill="#1a1a1a" font-family="'Liberation Sans', Arial, sans-serif" font-weight="normal" transform="rotate(-90 148 337.5)" stroke="#1a1a1a" stroke-width="0.06">UHB, Ni–O</text><text x="127.3" y="346.5" font-size="3.6" text-anchor="middle" fill="#1a1a1a" font-family="'Liberation Sans', Arial, sans-serif" font-weight="normal" stroke="#1a1a1a" stroke-width="0.06">E<tspan font-size="2.5" dy="0.8">F</tspan></text><line x1="109.6" y1="310.4" x2="145.6" y2="310.4" stroke="#666" stroke-width="0.5"/><polygon points="109.6,310.4 111.8,309.4 111.8,311.4" fill="#555"/><polygon points="145.6,310.4 143.4,309.4 143.4,311.4" fill="#555"/><rect x="124.8" y="308.4" width="5" height="4" fill="#fff"/><text x="127.3" y="311.8" font-size="3.8" text-anchor="middle" fill="#2a2a2a" font-family="'Liberation Sans', Arial, sans-serif" font-weight="normal" stroke="#2a2a2a" stroke-width="0.06">U</text><line x1="118.7" y1="305.2" x2="129.2" y2="305.2" stroke="#666" stroke-width="0.5"/><polygon points="118.7,305.2 120.9,304.2 120.9,306.2" fill="#555"/><polygon points="129.2,305.2 127,304.2 127,306.2" fill="#555"/><rect x="121.5" y="303.2" width="5" height="4" fill="#fff"/><text x="124" y="303.8" font-size="3.8" text-anchor="middle" fill="#2a2a2a" font-family="'Liberation Sans', Arial, sans-serif" font-weight="normal" stroke="#2a2a2a" stroke-width="0.06">Δ</text><line x1="109.6" y1="308.5" x2="109.6" y2="312.5" stroke="#666" stroke-width="0.5"/><line x1="145.6" y1="308.5" x2="145.6" y2="312.5" stroke="#666" stroke-width="0.5"/><path d="M70,424.2 A20.2,16.3 0 0 1 110.4,424.2 Z" fill="url(#sc)" stroke="#e06070" stroke-width="0.4" opacity="0.85"/><line x1="64.8" y1="424.2" x2="154.2" y2="424.2" stroke="#888" stroke-width="0.6"/><path d="M115.7,424.2 L115.7,410.7 C115.7,400.44 117.45,397.2 119.6,397.2 C121.74,397.2 123.5,400.44 123.5,410.7 L123.5,424.2 Z" fill="url(#bl)" stroke="#9090c8" stroke-width="0.4" opacity="0.8"/><path d="M142.7,424.2 L142.7,410.7 C142.7,400.44 144.95,397.2 147.7,397.2 C150.45,397.2 152.7,400.44 152.7,410.7 L152.7,424.2" fill="#fff" stroke="#6a6ab8" stroke-width="0.7"/><line x1="133.5" y1="407" x2="133.5" y2="422" stroke="#999" stroke-width="0.6" stroke-dasharray="0.8 1.6"/><text x="118.8" y="421.5" font-size="3.2" text-anchor="start" fill="#1a1a1a" font-family="'Liberation Sans', Arial, sans-serif" font-weight="normal" transform="rotate(-90 118.8 421.5)" stroke="#1a1a1a" stroke-width="0.06">LHB, Ni</text><text x="149.2" y="421.5" font-size="3.2" text-anchor="start" fill="#1a1a1a" font-family="'Liberation Sans', Arial, sans-serif" font-weight="normal" transform="rotate(-90 149.2 421.5)" stroke="#1a1a1a" stroke-width="0.06">UHB, Ni</text><text x="133.5" y="430.2" font-size="3.6" text-anchor="middle" fill="#1a1a1a" font-family="'Liberation Sans', Arial, sans-serif" font-weight="normal" stroke="#1a1a1a" stroke-width="0.06">E<tspan font-size="2.5" dy="0.8">F</tspan></text><line x1="89.8" y1="388.7" x2="146.5" y2="388.7" stroke="#666" stroke-width="0.5"/><polygon points="89.8,388.7 92,387.7 92,389.7" fill="#555"/><polygon points="146.5,388.7 144.3,387.7 144.3,389.7" fill="#555"/><rect x="116.2" y="386.7" width="5" height="4" fill="#fff"/><text x="118.7" y="390.1" font-size="3.8" text-anchor="middle" fill="#2a2a2a" font-family="'Liberation Sans', Arial, sans-serif" font-weight="normal" stroke="#2a2a2a" stroke-width="0.06">Δ</text><line x1="121.2" y1="394.4" x2="146.5" y2="394.4" stroke="#666" stroke-width="0.5"/><polygon points="121.2,394.4 123.4,393.4 123.4,395.4" fill="#555"/><polygon points="146.5,394.4 144.3,393.4 144.3,395.4" fill="#555"/><rect x="131.2" y="392.4" width="5" height="4" fill="#fff"/><text x="133.7" y="395.8" font-size="3.8" text-anchor="middle" fill="#2a2a2a" font-family="'Liberation Sans', Arial, sans-serif" font-weight="normal" stroke="#2a2a2a" stroke-width="0.06">U</text></svg></body></html>
